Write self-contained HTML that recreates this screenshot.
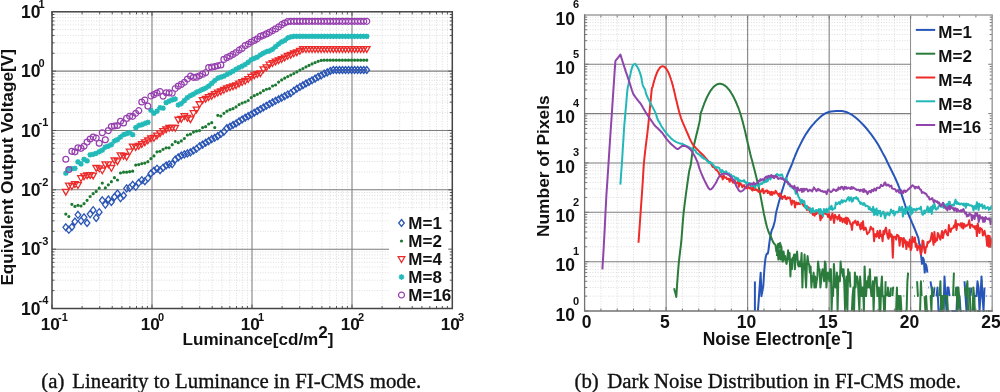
<!DOCTYPE html>
<html><head><meta charset="utf-8"><title>figure</title>
<style>html,body{margin:0;padding:0;background:#fff}body{width:1000px;height:392px;overflow:hidden}svg{display:block}</style>
</head><body>
<svg width="1000" height="392" viewBox="0 0 1000 392">
<path d="M82.10 11.80V308.50M99.71 11.80V308.50M112.21 11.80V308.50M121.90 11.80V308.50M129.82 11.80V308.50M136.51 11.80V308.50M142.31 11.80V308.50M147.42 11.80V308.50M182.10 11.80V308.50M199.71 11.80V308.50M212.21 11.80V308.50M221.90 11.80V308.50M229.82 11.80V308.50M236.51 11.80V308.50M242.31 11.80V308.50M247.42 11.80V308.50M282.10 11.80V308.50M299.71 11.80V308.50M312.21 11.80V308.50M321.90 11.80V308.50M329.82 11.80V308.50M336.51 11.80V308.50M342.31 11.80V308.50M347.42 11.80V308.50M382.10 11.80V308.50M399.71 11.80V308.50M412.21 11.80V308.50M421.90 11.80V308.50M429.82 11.80V308.50M436.51 11.80V308.50M442.31 11.80V308.50M447.42 11.80V308.50M52.00 290.64H452.30M52.00 280.19H452.30M52.00 272.77H452.30M52.00 267.02H452.30M52.00 262.32H452.30M52.00 258.35H452.30M52.00 254.91H452.30M52.00 251.88H452.30M52.00 231.30H452.30M52.00 220.85H452.30M52.00 213.43H452.30M52.00 207.68H452.30M52.00 202.98H452.30M52.00 199.01H452.30M52.00 195.57H452.30M52.00 192.54H452.30M52.00 171.96H452.30M52.00 161.51H452.30M52.00 154.09H452.30M52.00 148.34H452.30M52.00 143.64H452.30M52.00 139.67H452.30M52.00 136.23H452.30M52.00 133.20H452.30M52.00 112.62H452.30M52.00 102.17H452.30M52.00 94.75H452.30M52.00 89.00H452.30M52.00 84.30H452.30M52.00 80.33H452.30M52.00 76.89H452.30M52.00 73.86H452.30M52.00 53.28H452.30M52.00 42.83H452.30M52.00 35.41H452.30M52.00 29.66H452.30M52.00 24.96H452.30M52.00 20.99H452.30M52.00 17.55H452.30M52.00 14.52H452.30" stroke="#dcdcdc" stroke-width="1" stroke-dasharray="1 1.6" fill="none"/>
<path d="M152.00 11.80V308.50M252.00 11.80V308.50M352.00 11.80V308.50M52.00 249.16H452.30M52.00 189.82H452.30M52.00 130.48H452.30M52.00 71.14H452.30" stroke="#7d7d7d" stroke-width="1.05" fill="none"/>
<path d="M65.80 223.80L68.60 227.30L65.80 230.80L63.00 227.30ZM68.84 226.30L71.64 229.80L68.84 233.30L66.04 229.80ZM71.88 223.50L74.68 227.00L71.88 230.50L69.08 227.00ZM74.92 218.10L77.72 221.60L74.92 225.10L72.12 221.60ZM77.96 211.30L80.76 214.80L77.96 218.30L75.16 214.80ZM81.00 217.40L83.80 220.90L81.00 224.40L78.20 220.90ZM84.04 213.80L86.84 217.30L84.04 220.80L81.24 217.30ZM87.08 219.50L89.88 223.00L87.08 226.50L84.28 223.00ZM90.12 210.60L92.92 214.10L90.12 217.60L87.32 214.10ZM93.16 206.70L95.96 210.20L93.16 213.70L90.36 210.20ZM96.20 214.40L99.00 217.90L96.20 221.40L93.40 217.90ZM99.24 208.70L102.04 212.20L99.24 215.70L96.44 212.20ZM102.28 196.80L105.08 200.30L102.28 203.80L99.48 200.30ZM105.32 201.10L108.12 204.60L105.32 208.10L102.52 204.60ZM108.36 196.00L111.16 199.50L108.36 203.00L105.56 199.50ZM111.40 198.50L114.20 202.00L111.40 205.50L108.60 202.00ZM114.44 193.50L117.24 197.00L114.44 200.50L111.64 197.00ZM117.48 190.00L120.28 193.50L117.48 197.00L114.68 193.50ZM120.52 194.60L123.32 198.10L120.52 201.60L117.72 198.10ZM123.56 192.00L126.36 195.50L123.56 199.00L120.76 195.50ZM126.60 184.90L129.40 188.40L126.60 191.90L123.80 188.40ZM129.64 184.40L132.44 187.90L129.64 191.40L126.84 187.90ZM132.68 181.30L135.48 184.80L132.68 188.30L129.88 184.80ZM135.72 183.30L138.52 186.80L135.72 190.30L132.92 186.80ZM138.76 179.30L141.56 182.80L138.76 186.30L135.96 182.80ZM141.80 176.70L144.60 180.20L141.80 183.70L139.00 180.20ZM144.84 177.70L147.64 181.20L144.84 184.70L142.04 181.20ZM147.88 174.70L150.68 178.20L147.88 181.70L145.08 178.20ZM150.92 170.00L153.72 173.50L150.92 177.00L148.12 173.50ZM153.96 167.20L156.76 170.70L153.96 174.20L151.16 170.70ZM157.00 165.20L159.80 168.70L157.00 172.20L154.20 168.70ZM160.04 166.70L162.84 170.20L160.04 173.70L157.24 170.20ZM163.08 164.20L165.88 167.70L163.08 171.20L160.28 167.70ZM166.12 162.01L168.92 165.51L166.12 169.01L163.32 165.51ZM169.16 160.87L171.96 164.37L169.16 167.87L166.36 164.37ZM172.20 160.60L175.00 164.10L172.20 167.60L169.40 164.10ZM175.24 156.00L178.04 159.50L175.24 163.00L172.44 159.50ZM178.28 153.90L181.08 157.40L178.28 160.90L175.48 157.40ZM181.32 152.06L184.12 155.56L181.32 159.06L178.52 155.56ZM184.36 150.90L187.16 154.40L184.36 157.90L181.56 154.40ZM187.40 149.90L190.20 153.40L187.40 156.90L184.60 153.40ZM190.44 148.84L193.24 152.34L190.44 155.84L187.64 152.34ZM193.48 147.07L196.28 150.57L193.48 154.07L190.68 150.57ZM196.52 145.30L199.32 148.80L196.52 152.30L193.72 148.80ZM199.56 142.70L202.36 146.20L199.56 149.70L196.76 146.20ZM202.60 141.11L205.40 144.61L202.60 148.11L199.80 144.61ZM205.64 139.22L208.44 142.72L205.64 146.22L202.84 142.72ZM208.68 137.60L211.48 141.10L208.68 144.60L205.88 141.10ZM211.72 135.60L214.52 139.10L211.72 142.60L208.92 139.10ZM214.76 134.29L217.56 137.79L214.76 141.29L211.96 137.79ZM217.80 132.62L220.60 136.12L217.80 139.62L215.00 136.12ZM220.84 130.50L223.64 134.00L220.84 137.50L218.04 134.00ZM223.88 128.14L226.68 131.64L223.88 135.14L221.08 131.64ZM226.92 124.60L229.72 128.10L226.92 131.60L224.12 128.10ZM229.96 123.26L232.76 126.76L229.96 130.26L227.16 126.76ZM233.00 121.53L235.80 125.03L233.00 128.53L230.20 125.03ZM236.04 120.00L238.84 123.50L236.04 127.00L233.24 123.50ZM239.08 117.90L241.88 121.40L239.08 124.90L236.28 121.40ZM242.12 116.01L244.92 119.51L242.12 123.01L239.32 119.51ZM245.16 114.23L247.96 117.73L245.16 121.23L242.36 117.73ZM248.20 112.63L251.00 116.13L248.20 119.63L245.40 116.13ZM251.24 111.10L254.04 114.60L251.24 118.10L248.44 114.60ZM254.28 109.22L257.08 112.72L254.28 116.22L251.48 112.72ZM257.32 107.50L260.12 111.00L257.32 114.50L254.52 111.00ZM260.36 105.73L263.16 109.23L260.36 112.73L257.56 109.23ZM263.40 104.02L266.20 107.52L263.40 111.02L260.60 107.52ZM266.44 102.32L269.24 105.82L266.44 109.32L263.64 105.82ZM269.48 100.61L272.28 104.11L269.48 107.61L266.68 104.11ZM272.52 98.91L275.32 102.41L272.52 105.91L269.72 102.41ZM275.56 97.33L278.36 100.83L275.56 104.33L272.76 100.83ZM278.60 95.83L281.40 99.33L278.60 102.83L275.80 99.33ZM281.64 94.30L284.44 97.80L281.64 101.30L278.84 97.80ZM284.68 92.63L287.48 96.13L284.68 99.63L281.88 96.13ZM287.72 90.92L290.52 94.42L287.72 97.92L284.92 94.42ZM290.76 89.70L293.56 93.20L290.76 96.70L287.96 93.20ZM293.80 87.20L296.60 90.70L293.80 94.20L291.00 90.70ZM296.84 85.24L299.64 88.74L296.84 92.24L294.04 88.74ZM299.88 83.44L302.68 86.94L299.88 90.44L297.08 86.94ZM302.92 81.73L305.72 85.23L302.92 88.73L300.12 85.23ZM305.96 80.00L308.76 83.50L305.96 87.00L303.16 83.50ZM309.00 78.42L311.80 81.92L309.00 85.42L306.20 81.92ZM312.04 76.82L314.84 80.32L312.04 83.82L309.24 80.32ZM315.08 75.13L317.88 78.63L315.08 82.13L312.28 78.63ZM318.12 73.37L320.92 76.87L318.12 80.37L315.32 76.87ZM321.16 72.00L323.96 75.50L321.16 79.00L318.36 75.50ZM324.20 70.12L327.00 73.62L324.20 77.12L321.40 73.62ZM327.24 68.90L330.04 72.40L327.24 75.90L324.44 72.40ZM330.28 67.48L333.08 70.98L330.28 74.48L327.48 70.98ZM333.32 66.50L336.12 70.00L333.32 73.50L330.52 70.00ZM336.36 66.50L339.16 70.00L336.36 73.50L333.56 70.00ZM339.40 66.50L342.20 70.00L339.40 73.50L336.60 70.00ZM342.44 66.50L345.24 70.00L342.44 73.50L339.64 70.00ZM345.48 66.50L348.28 70.00L345.48 73.50L342.68 70.00ZM348.52 66.50L351.32 70.00L348.52 73.50L345.72 70.00ZM351.56 66.50L354.36 70.00L351.56 73.50L348.76 70.00ZM354.60 66.50L357.40 70.00L354.60 73.50L351.80 70.00ZM357.64 66.50L360.44 70.00L357.64 73.50L354.84 70.00ZM360.68 66.50L363.48 70.00L360.68 73.50L357.88 70.00ZM363.72 66.50L366.52 70.00L363.72 73.50L360.92 70.00ZM366.76 66.50L369.56 70.00L366.76 73.50L363.96 70.00Z" fill="none" stroke="#2b56b5" stroke-width="1.3" stroke-linejoin="miter"/>
<path d="M64.20 214.10a1.6 1.6 0 1 0 3.20 0a1.6 1.6 0 1 0 -3.20 0ZM67.24 216.50a1.6 1.6 0 1 0 3.20 0a1.6 1.6 0 1 0 -3.20 0ZM70.28 204.30a1.6 1.6 0 1 0 3.20 0a1.6 1.6 0 1 0 -3.20 0ZM73.32 206.40a1.6 1.6 0 1 0 3.20 0a1.6 1.6 0 1 0 -3.20 0ZM76.36 205.30a1.6 1.6 0 1 0 3.20 0a1.6 1.6 0 1 0 -3.20 0ZM79.40 206.00a1.6 1.6 0 1 0 3.20 0a1.6 1.6 0 1 0 -3.20 0ZM82.44 203.70a1.6 1.6 0 1 0 3.20 0a1.6 1.6 0 1 0 -3.20 0ZM85.48 200.30a1.6 1.6 0 1 0 3.20 0a1.6 1.6 0 1 0 -3.20 0ZM88.52 196.50a1.6 1.6 0 1 0 3.20 0a1.6 1.6 0 1 0 -3.20 0ZM91.56 193.70a1.6 1.6 0 1 0 3.20 0a1.6 1.6 0 1 0 -3.20 0ZM94.60 191.40a1.6 1.6 0 1 0 3.20 0a1.6 1.6 0 1 0 -3.20 0ZM97.64 188.20a1.6 1.6 0 1 0 3.20 0a1.6 1.6 0 1 0 -3.20 0ZM100.68 183.10a1.6 1.6 0 1 0 3.20 0a1.6 1.6 0 1 0 -3.20 0ZM103.72 187.90a1.6 1.6 0 1 0 3.20 0a1.6 1.6 0 1 0 -3.20 0ZM106.76 184.80a1.6 1.6 0 1 0 3.20 0a1.6 1.6 0 1 0 -3.20 0ZM109.80 181.70a1.6 1.6 0 1 0 3.20 0a1.6 1.6 0 1 0 -3.20 0ZM112.84 177.70a1.6 1.6 0 1 0 3.20 0a1.6 1.6 0 1 0 -3.20 0ZM115.88 180.00a1.6 1.6 0 1 0 3.20 0a1.6 1.6 0 1 0 -3.20 0ZM118.92 173.00a1.6 1.6 0 1 0 3.20 0a1.6 1.6 0 1 0 -3.20 0ZM121.96 172.20a1.6 1.6 0 1 0 3.20 0a1.6 1.6 0 1 0 -3.20 0ZM125.00 172.20a1.6 1.6 0 1 0 3.20 0a1.6 1.6 0 1 0 -3.20 0ZM128.04 171.70a1.6 1.6 0 1 0 3.20 0a1.6 1.6 0 1 0 -3.20 0ZM131.08 171.20a1.6 1.6 0 1 0 3.20 0a1.6 1.6 0 1 0 -3.20 0ZM134.12 165.10a1.6 1.6 0 1 0 3.20 0a1.6 1.6 0 1 0 -3.20 0ZM137.16 164.60a1.6 1.6 0 1 0 3.20 0a1.6 1.6 0 1 0 -3.20 0ZM140.20 163.60a1.6 1.6 0 1 0 3.20 0a1.6 1.6 0 1 0 -3.20 0ZM143.24 163.10a1.6 1.6 0 1 0 3.20 0a1.6 1.6 0 1 0 -3.20 0ZM146.28 161.70a1.6 1.6 0 1 0 3.20 0a1.6 1.6 0 1 0 -3.20 0ZM149.32 158.70a1.6 1.6 0 1 0 3.20 0a1.6 1.6 0 1 0 -3.20 0ZM152.36 155.90a1.6 1.6 0 1 0 3.20 0a1.6 1.6 0 1 0 -3.20 0ZM155.40 151.80a1.6 1.6 0 1 0 3.20 0a1.6 1.6 0 1 0 -3.20 0ZM158.44 151.30a1.6 1.6 0 1 0 3.20 0a1.6 1.6 0 1 0 -3.20 0ZM161.48 149.30a1.6 1.6 0 1 0 3.20 0a1.6 1.6 0 1 0 -3.20 0ZM164.52 147.80a1.6 1.6 0 1 0 3.20 0a1.6 1.6 0 1 0 -3.20 0ZM167.56 147.80a1.6 1.6 0 1 0 3.20 0a1.6 1.6 0 1 0 -3.20 0ZM170.60 144.70a1.6 1.6 0 1 0 3.20 0a1.6 1.6 0 1 0 -3.20 0ZM173.64 141.60a1.6 1.6 0 1 0 3.20 0a1.6 1.6 0 1 0 -3.20 0ZM176.68 142.70a1.6 1.6 0 1 0 3.20 0a1.6 1.6 0 1 0 -3.20 0ZM179.72 140.90a1.6 1.6 0 1 0 3.20 0a1.6 1.6 0 1 0 -3.20 0ZM182.76 138.50a1.6 1.6 0 1 0 3.20 0a1.6 1.6 0 1 0 -3.20 0ZM185.80 135.00a1.6 1.6 0 1 0 3.20 0a1.6 1.6 0 1 0 -3.20 0ZM188.84 134.20a1.6 1.6 0 1 0 3.20 0a1.6 1.6 0 1 0 -3.20 0ZM191.88 132.10a1.6 1.6 0 1 0 3.20 0a1.6 1.6 0 1 0 -3.20 0ZM194.92 131.10a1.6 1.6 0 1 0 3.20 0a1.6 1.6 0 1 0 -3.20 0ZM197.96 130.60a1.6 1.6 0 1 0 3.20 0a1.6 1.6 0 1 0 -3.20 0ZM201.00 127.60a1.6 1.6 0 1 0 3.20 0a1.6 1.6 0 1 0 -3.20 0ZM204.04 126.70a1.6 1.6 0 1 0 3.20 0a1.6 1.6 0 1 0 -3.20 0ZM207.08 124.00a1.6 1.6 0 1 0 3.20 0a1.6 1.6 0 1 0 -3.20 0ZM210.12 122.70a1.6 1.6 0 1 0 3.20 0a1.6 1.6 0 1 0 -3.20 0ZM213.16 127.60a1.6 1.6 0 1 0 3.20 0a1.6 1.6 0 1 0 -3.20 0ZM216.20 115.30a1.6 1.6 0 1 0 3.20 0a1.6 1.6 0 1 0 -3.20 0ZM219.24 116.10a1.6 1.6 0 1 0 3.20 0a1.6 1.6 0 1 0 -3.20 0ZM222.28 113.30a1.6 1.6 0 1 0 3.20 0a1.6 1.6 0 1 0 -3.20 0ZM225.32 111.20a1.6 1.6 0 1 0 3.20 0a1.6 1.6 0 1 0 -3.20 0ZM228.36 109.70a1.6 1.6 0 1 0 3.20 0a1.6 1.6 0 1 0 -3.20 0ZM231.40 108.70a1.6 1.6 0 1 0 3.20 0a1.6 1.6 0 1 0 -3.20 0ZM234.44 106.90a1.6 1.6 0 1 0 3.20 0a1.6 1.6 0 1 0 -3.20 0ZM237.48 104.60a1.6 1.6 0 1 0 3.20 0a1.6 1.6 0 1 0 -3.20 0ZM240.52 103.10a1.6 1.6 0 1 0 3.20 0a1.6 1.6 0 1 0 -3.20 0ZM243.56 102.00a1.6 1.6 0 1 0 3.20 0a1.6 1.6 0 1 0 -3.20 0ZM246.60 100.50a1.6 1.6 0 1 0 3.20 0a1.6 1.6 0 1 0 -3.20 0ZM249.64 97.53a1.6 1.6 0 1 0 3.20 0a1.6 1.6 0 1 0 -3.20 0ZM252.68 95.66a1.6 1.6 0 1 0 3.20 0a1.6 1.6 0 1 0 -3.20 0ZM255.72 94.34a1.6 1.6 0 1 0 3.20 0a1.6 1.6 0 1 0 -3.20 0ZM258.76 92.85a1.6 1.6 0 1 0 3.20 0a1.6 1.6 0 1 0 -3.20 0ZM261.80 90.70a1.6 1.6 0 1 0 3.20 0a1.6 1.6 0 1 0 -3.20 0ZM264.84 89.26a1.6 1.6 0 1 0 3.20 0a1.6 1.6 0 1 0 -3.20 0ZM267.88 88.60a1.6 1.6 0 1 0 3.20 0a1.6 1.6 0 1 0 -3.20 0ZM270.92 86.01a1.6 1.6 0 1 0 3.20 0a1.6 1.6 0 1 0 -3.20 0ZM273.96 85.00a1.6 1.6 0 1 0 3.20 0a1.6 1.6 0 1 0 -3.20 0ZM277.00 82.12a1.6 1.6 0 1 0 3.20 0a1.6 1.6 0 1 0 -3.20 0ZM280.04 79.93a1.6 1.6 0 1 0 3.20 0a1.6 1.6 0 1 0 -3.20 0ZM283.08 78.14a1.6 1.6 0 1 0 3.20 0a1.6 1.6 0 1 0 -3.20 0ZM286.12 76.60a1.6 1.6 0 1 0 3.20 0a1.6 1.6 0 1 0 -3.20 0ZM289.16 75.09a1.6 1.6 0 1 0 3.20 0a1.6 1.6 0 1 0 -3.20 0ZM292.20 73.59a1.6 1.6 0 1 0 3.20 0a1.6 1.6 0 1 0 -3.20 0ZM295.24 71.91a1.6 1.6 0 1 0 3.20 0a1.6 1.6 0 1 0 -3.20 0ZM298.28 70.12a1.6 1.6 0 1 0 3.20 0a1.6 1.6 0 1 0 -3.20 0ZM301.32 68.48a1.6 1.6 0 1 0 3.20 0a1.6 1.6 0 1 0 -3.20 0ZM304.36 66.93a1.6 1.6 0 1 0 3.20 0a1.6 1.6 0 1 0 -3.20 0ZM307.40 65.43a1.6 1.6 0 1 0 3.20 0a1.6 1.6 0 1 0 -3.20 0ZM310.44 63.96a1.6 1.6 0 1 0 3.20 0a1.6 1.6 0 1 0 -3.20 0ZM313.48 62.58a1.6 1.6 0 1 0 3.20 0a1.6 1.6 0 1 0 -3.20 0ZM316.52 61.29a1.6 1.6 0 1 0 3.20 0a1.6 1.6 0 1 0 -3.20 0ZM319.56 60.43a1.6 1.6 0 1 0 3.20 0a1.6 1.6 0 1 0 -3.20 0ZM322.60 60.20a1.6 1.6 0 1 0 3.20 0a1.6 1.6 0 1 0 -3.20 0ZM325.64 60.20a1.6 1.6 0 1 0 3.20 0a1.6 1.6 0 1 0 -3.20 0ZM328.68 60.20a1.6 1.6 0 1 0 3.20 0a1.6 1.6 0 1 0 -3.20 0ZM331.72 60.20a1.6 1.6 0 1 0 3.20 0a1.6 1.6 0 1 0 -3.20 0ZM334.76 60.20a1.6 1.6 0 1 0 3.20 0a1.6 1.6 0 1 0 -3.20 0ZM337.80 60.20a1.6 1.6 0 1 0 3.20 0a1.6 1.6 0 1 0 -3.20 0ZM340.84 60.20a1.6 1.6 0 1 0 3.20 0a1.6 1.6 0 1 0 -3.20 0ZM343.88 60.20a1.6 1.6 0 1 0 3.20 0a1.6 1.6 0 1 0 -3.20 0ZM346.92 60.20a1.6 1.6 0 1 0 3.20 0a1.6 1.6 0 1 0 -3.20 0ZM349.96 60.20a1.6 1.6 0 1 0 3.20 0a1.6 1.6 0 1 0 -3.20 0ZM353.00 60.20a1.6 1.6 0 1 0 3.20 0a1.6 1.6 0 1 0 -3.20 0ZM356.04 60.20a1.6 1.6 0 1 0 3.20 0a1.6 1.6 0 1 0 -3.20 0ZM359.08 60.20a1.6 1.6 0 1 0 3.20 0a1.6 1.6 0 1 0 -3.20 0ZM362.12 60.20a1.6 1.6 0 1 0 3.20 0a1.6 1.6 0 1 0 -3.20 0ZM365.16 60.20a1.6 1.6 0 1 0 3.20 0a1.6 1.6 0 1 0 -3.20 0Z" fill="#1d7a33" stroke="none"/>
<path d="M62.50 189.30H69.10L65.80 195.10ZM65.54 183.20H72.14L68.84 189.00ZM68.58 183.70H75.18L71.88 189.50ZM71.62 181.70H78.22L74.92 187.50ZM74.66 182.70H81.26L77.96 188.50ZM77.70 175.70H84.30L81.00 181.50ZM80.74 173.90H87.34L84.04 179.70ZM83.78 172.80H90.38L87.08 178.60ZM86.82 172.60H93.42L90.12 178.40ZM89.86 173.10H96.46L93.16 178.90ZM92.90 165.50H99.50L96.20 171.30ZM95.94 166.00H102.54L99.24 171.80ZM98.98 168.00H105.58L102.28 173.80ZM102.02 161.90H108.62L105.32 167.70ZM105.06 161.90H111.66L108.36 167.70ZM108.10 165.50H114.70L111.40 171.30ZM111.14 157.80H117.74L114.44 163.60ZM114.18 158.80H120.78L117.48 164.60ZM117.22 152.91H123.82L120.52 158.71ZM120.26 153.30H126.86L123.56 159.10ZM123.30 154.30H129.90L126.60 160.10ZM126.34 149.20H132.94L129.64 155.00ZM129.38 144.10H135.98L132.68 149.90ZM132.42 144.60H139.02L135.72 150.40ZM135.46 143.40H142.06L138.76 149.20ZM138.50 141.71H145.10L141.80 147.51ZM141.54 139.83H148.14L144.84 145.63ZM144.58 138.00H151.18L147.88 143.80ZM147.62 136.00H154.22L150.92 141.80ZM150.66 135.40H157.26L153.96 141.20ZM153.70 133.10H160.30L157.00 138.90ZM156.74 130.78H163.34L160.04 136.58ZM159.78 128.68H166.38L163.08 134.48ZM162.82 127.00H169.42L166.12 132.80ZM165.86 125.49H172.46L169.16 131.29ZM168.90 125.22H175.50L172.20 131.02ZM171.94 125.50H178.54L175.24 131.30ZM174.98 117.27H181.58L178.28 123.07ZM178.02 116.30H184.62L181.32 122.10ZM181.06 113.70H187.66L184.36 119.50ZM184.10 115.34H190.70L187.40 121.14ZM187.14 116.80H193.74L190.44 122.60ZM190.18 110.70H196.78L193.48 116.50ZM193.22 107.10H199.82L196.52 112.90ZM196.26 101.76H202.86L199.56 107.56ZM199.30 97.60H205.90L202.60 103.40ZM202.34 96.28H208.94L205.64 102.08ZM205.38 94.71H211.98L208.68 100.51ZM208.42 93.40H215.02L211.72 99.20ZM211.46 91.66H218.06L214.76 97.46ZM214.50 90.18H221.10L217.80 95.98ZM217.54 88.79H224.14L220.84 94.59ZM220.58 87.49H227.18L223.88 93.29ZM223.62 85.90H230.22L226.92 91.70ZM226.66 85.00H233.26L229.96 90.80ZM229.70 83.83H236.30L233.00 89.63ZM232.74 82.80H239.34L236.04 88.60ZM235.78 81.08H242.38L239.08 86.88ZM238.82 79.70H245.42L242.12 85.50ZM241.86 78.48H248.46L245.16 84.28ZM244.90 76.67H251.50L248.20 82.47ZM247.94 74.40H254.54L251.24 80.20ZM250.98 72.84H257.58L254.28 78.64ZM254.02 71.63H260.62L257.32 77.43ZM257.06 70.90H263.66L260.36 76.70ZM260.10 66.80H266.70L263.40 72.60ZM263.14 64.96H269.74L266.44 70.76ZM266.18 62.20H272.78L269.48 68.00ZM269.22 60.67H275.82L272.52 66.47ZM272.26 59.10H278.86L275.56 64.90ZM275.30 57.87H281.90L278.60 63.67ZM278.34 56.60H284.94L281.64 62.40ZM281.38 55.11H287.98L284.68 60.91ZM284.42 53.50H291.02L287.72 59.30ZM287.46 52.33H294.06L290.76 58.13ZM290.50 51.00H297.10L293.80 56.80ZM293.54 49.79H300.14L296.84 55.59ZM296.58 48.40H303.18L299.88 54.20ZM299.62 46.60H306.22L302.92 52.40ZM302.66 46.60H309.26L305.96 52.40ZM305.70 46.60H312.30L309.00 52.40ZM308.74 46.60H315.34L312.04 52.40ZM311.78 46.60H318.38L315.08 52.40ZM314.82 46.60H321.42L318.12 52.40ZM317.86 46.60H324.46L321.16 52.40ZM320.90 46.60H327.50L324.20 52.40ZM323.94 46.60H330.54L327.24 52.40ZM326.98 46.60H333.58L330.28 52.40ZM330.02 46.60H336.62L333.32 52.40ZM333.06 46.60H339.66L336.36 52.40ZM336.10 46.60H342.70L339.40 52.40ZM339.14 46.60H345.74L342.44 52.40ZM342.18 46.60H348.78L345.48 52.40ZM345.22 46.60H351.82L348.52 52.40ZM348.26 46.60H354.86L351.56 52.40ZM351.30 46.60H357.90L354.60 52.40ZM354.34 46.60H360.94L357.64 52.40ZM357.38 46.60H363.98L360.68 52.40ZM360.42 46.60H367.02L363.72 52.40ZM363.46 46.60H370.06L366.76 52.40Z" fill="none" stroke="#ec2a2a" stroke-width="1.3" stroke-linejoin="miter"/>
<path d="M63.70 173.20L67.90 173.20M64.32 171.72L67.28 174.68M65.80 171.10L65.80 175.30M67.28 171.72L64.32 174.68M66.74 169.10L70.94 169.10M67.36 167.62L70.32 170.58M68.84 167.00L68.84 171.20M70.32 167.62L67.36 170.58M69.78 168.60L73.98 168.60M70.40 167.12L73.36 170.08M71.88 166.50L71.88 170.70M73.36 167.12L70.40 170.08M72.82 168.40L77.02 168.40M73.44 166.92L76.40 169.88M74.92 166.30L74.92 170.50M76.40 166.92L73.44 169.88M75.86 161.90L80.06 161.90M76.48 160.42L79.44 163.38M77.96 159.80L77.96 164.00M79.44 160.42L76.48 163.38M78.90 164.00L83.10 164.00M79.52 162.52L82.48 165.48M81.00 161.90L81.00 166.10M82.48 162.52L79.52 165.48M81.94 159.40L86.14 159.40M82.56 157.92L85.52 160.88M84.04 157.30L84.04 161.50M85.52 157.92L82.56 160.88M84.98 160.90L89.18 160.90M85.60 159.42L88.56 162.38M87.08 158.80L87.08 163.00M88.56 159.42L85.60 162.38M88.02 154.80L92.22 154.80M88.64 153.32L91.60 156.28M90.12 152.70L90.12 156.90M91.60 153.32L88.64 156.28M91.06 154.30L95.26 154.30M91.68 152.82L94.64 155.78M93.16 152.20L93.16 156.40M94.64 152.82L91.68 155.78M94.10 153.30L98.30 153.30M94.72 151.82L97.68 154.78M96.20 151.20L96.20 155.40M97.68 151.82L94.72 154.78M97.14 151.70L101.34 151.70M97.76 150.22L100.72 153.18M99.24 149.60L99.24 153.80M100.72 150.22L97.76 153.18M100.18 150.20L104.38 150.20M100.80 148.72L103.76 151.68M102.28 148.10L102.28 152.30M103.76 148.72L100.80 151.68M103.22 147.10L107.42 147.10M103.84 145.62L106.80 148.58M105.32 145.00L105.32 149.20M106.80 145.62L103.84 148.58M106.26 146.10L110.46 146.10M106.88 144.62L109.84 147.58M108.36 144.00L108.36 148.20M109.84 144.62L106.88 147.58M109.30 144.60L113.50 144.60M109.92 143.12L112.88 146.08M111.40 142.50L111.40 146.70M112.88 143.12L109.92 146.08M112.34 141.00L116.54 141.00M112.96 139.52L115.92 142.48M114.44 138.90L114.44 143.10M115.92 139.52L112.96 142.48M115.38 139.60L119.58 139.60M116.00 138.12L118.96 141.08M117.48 137.50L117.48 141.70M118.96 138.12L116.00 141.08M118.42 137.00L122.62 137.00M119.04 135.52L122.00 138.48M120.52 134.90L120.52 139.10M122.00 135.52L119.04 138.48M121.46 134.70L125.66 134.70M122.08 133.22L125.04 136.18M123.56 132.60L123.56 136.80M125.04 133.22L122.08 136.18M124.50 133.70L128.70 133.70M125.12 132.22L128.08 135.18M126.60 131.60L126.60 135.80M128.08 132.22L125.12 135.18M127.54 132.70L131.74 132.70M128.16 131.22L131.12 134.18M129.64 130.60L129.64 134.80M131.12 131.22L128.16 134.18M130.58 134.70L134.78 134.70M131.20 133.22L134.16 136.18M132.68 132.60L132.68 136.80M134.16 133.22L131.20 136.18M133.62 127.60L137.82 127.60M134.24 126.12L137.20 129.08M135.72 125.50L135.72 129.70M137.20 126.12L134.24 129.08M136.66 125.50L140.86 125.50M137.28 124.02L140.24 126.98M138.76 123.40L138.76 127.60M140.24 124.02L137.28 126.98M139.70 124.73L143.90 124.73M140.32 123.25L143.28 126.22M141.80 122.63L141.80 126.83M143.28 123.25L140.32 126.22M142.74 123.52L146.94 123.52M143.36 122.04L146.32 125.01M144.84 121.42L144.84 125.62M146.32 122.04L143.36 125.01M145.78 122.40L149.98 122.40M146.40 120.92L149.36 123.88M147.88 120.30L147.88 124.50M149.36 120.92L146.40 123.88M148.82 110.20L153.02 110.20M149.44 108.72L152.40 111.68M150.92 108.10L150.92 112.30M152.40 108.72L149.44 111.68M151.86 113.30L156.06 113.30M152.48 111.82L155.44 114.78M153.96 111.20L153.96 115.40M155.44 111.82L152.48 114.78M154.90 111.20L159.10 111.20M155.52 109.72L158.48 112.68M157.00 109.10L157.00 113.30M158.48 109.72L155.52 112.68M157.94 107.70L162.14 107.70M158.56 106.22L161.52 109.18M160.04 105.60L160.04 109.80M161.52 106.22L158.56 109.18M160.98 108.20L165.18 108.20M161.60 106.72L164.56 109.68M163.08 106.10L163.08 110.30M164.56 106.72L161.60 109.68M164.02 102.60L168.22 102.60M164.64 101.12L167.60 104.08M166.12 100.50L166.12 104.70M167.60 101.12L164.64 104.08M167.06 101.20L171.26 101.20M167.68 99.72L170.64 102.69M169.16 99.10L169.16 103.30M170.64 99.72L167.68 102.69M170.10 99.90L174.30 99.90M170.72 98.41L173.68 101.38M172.20 97.80L172.20 102.00M173.68 98.41L170.72 101.38M173.14 99.00L177.34 99.00M173.76 97.52L176.72 100.48M175.24 96.90L175.24 101.10M176.72 97.52L173.76 100.48M176.18 105.00L180.38 105.00M176.80 103.52L179.76 106.48M178.28 102.90L178.28 107.10M179.76 103.52L176.80 106.48M179.22 103.54L183.42 103.54M179.84 102.06L182.80 105.03M181.32 101.44L181.32 105.64M182.80 102.06L179.84 105.03M182.26 100.62L186.46 100.62M182.88 99.14L185.84 102.11M184.36 98.52L184.36 102.72M185.84 99.14L182.88 102.11M185.30 97.61L189.50 97.61M185.92 96.13L188.88 99.10M187.40 95.51L187.40 99.71M188.88 96.13L185.92 99.10M188.34 95.67L192.54 95.67M188.96 94.19L191.92 97.16M190.44 93.57L190.44 97.77M191.92 94.19L188.96 97.16M191.38 94.10L195.58 94.10M192.00 92.62L194.96 95.58M193.48 92.00L193.48 96.20M194.96 92.62L192.00 95.58M194.42 92.26L198.62 92.26M195.04 90.78L198.00 93.75M196.52 90.16L196.52 94.36M198.00 90.78L195.04 93.75M197.46 91.00L201.66 91.00M198.08 89.52L201.04 92.48M199.56 88.90L199.56 93.10M201.04 89.52L198.08 92.48M200.50 89.40L204.70 89.40M201.12 87.92L204.08 90.88M202.60 87.30L202.60 91.50M204.08 87.92L201.12 90.88M203.54 88.05L207.74 88.05M204.16 86.56L207.12 89.53M205.64 85.95L205.64 90.15M207.12 86.56L204.16 89.53M206.58 86.16L210.78 86.16M207.20 84.68L210.16 87.65M208.68 84.06L208.68 88.26M210.16 84.68L207.20 87.65M209.62 83.40L213.82 83.40M210.24 81.92L213.20 84.88M211.72 81.30L211.72 85.50M213.20 81.92L210.24 84.88M212.66 80.53L216.86 80.53M213.28 79.04L216.24 82.01M214.76 78.43L214.76 82.63M216.24 79.04L213.28 82.01M215.70 78.26L219.90 78.26M216.32 76.77L219.28 79.74M217.80 76.16L217.80 80.36M219.28 76.77L216.32 79.74M218.74 77.16L222.94 77.16M219.36 75.68L222.32 78.65M220.84 75.06L220.84 79.26M222.32 75.68L219.36 78.65M221.78 76.20L225.98 76.20M222.40 74.72L225.36 77.68M223.88 74.10L223.88 78.30M225.36 74.72L222.40 77.68M224.82 74.47L229.02 74.47M225.44 72.98L228.40 75.95M226.92 72.37L226.92 76.57M228.40 72.98L225.44 75.95M227.86 72.93L232.06 72.93M228.48 71.45L231.44 74.42M229.96 70.83L229.96 75.03M231.44 71.45L228.48 74.42M230.90 71.20L235.10 71.20M231.52 69.71L234.48 72.68M233.00 69.10L233.00 73.30M234.48 69.71L231.52 72.68M233.94 69.24L238.14 69.24M234.56 67.75L237.52 70.72M236.04 67.14L236.04 71.34M237.52 67.75L234.56 70.72M236.98 67.53L241.18 67.53M237.60 66.05L240.56 69.02M239.08 65.43L239.08 69.63M240.56 66.05L237.60 69.02M240.02 66.18L244.22 66.18M240.64 64.70L243.60 67.66M242.12 64.08L242.12 68.28M243.60 64.70L240.64 67.66M243.06 64.50L247.26 64.50M243.68 63.02L246.64 65.98M245.16 62.40L245.16 66.60M246.64 63.02L243.68 65.98M246.10 62.38L250.30 62.38M246.72 60.89L249.68 63.86M248.20 60.28L248.20 64.48M249.68 60.89L246.72 63.86M249.14 59.70L253.34 59.70M249.76 58.22L252.72 61.18M251.24 57.60L251.24 61.80M252.72 58.22L249.76 61.18M252.18 58.34L256.38 58.34M252.80 56.86L255.76 59.83M254.28 56.24L254.28 60.44M255.76 56.86L252.80 59.83M255.22 57.10L259.42 57.10M255.84 55.62L258.80 58.58M257.32 55.00L257.32 59.20M258.80 55.62L255.84 58.58M258.26 54.93L262.46 54.93M258.88 53.45L261.84 56.42M260.36 52.83L260.36 57.03M261.84 53.45L258.88 56.42M261.30 53.09L265.50 53.09M261.92 51.61L264.88 54.58M263.40 50.99L263.40 55.19M264.88 51.61L261.92 54.58M264.34 51.70L268.54 51.70M264.96 50.22L267.92 53.18M266.44 49.60L266.44 53.80M267.92 50.22L264.96 53.18M267.38 50.79L271.58 50.79M268.00 49.31L270.96 52.28M269.48 48.69L269.48 52.89M270.96 49.31L268.00 52.28M270.42 49.30L274.62 49.30M271.04 47.82L274.00 50.79M272.52 47.20L272.52 51.40M274.00 47.82L271.04 50.79M273.46 46.60L277.66 46.60M274.08 45.12L277.04 48.08M275.56 44.50L275.56 48.70M277.04 45.12L274.08 48.08M276.50 44.04L280.70 44.04M277.12 42.55L280.08 45.52M278.60 41.94L278.60 46.14M280.08 42.55L277.12 45.52M279.54 41.87L283.74 41.87M280.16 40.38L283.12 43.35M281.64 39.77L281.64 43.97M283.12 40.38L280.16 43.35M282.58 40.50L286.78 40.50M283.20 39.02L286.16 41.98M284.68 38.40L284.68 42.60M286.16 39.02L283.20 41.98M285.62 38.00L289.82 38.00M286.24 36.52L289.20 39.48M287.72 35.90L287.72 40.10M289.20 36.52L286.24 39.48M288.66 36.88L292.86 36.88M289.28 35.40L292.24 38.37M290.76 34.78L290.76 38.98M292.24 35.40L289.28 38.37M291.70 36.40L295.90 36.40M292.32 34.92L295.28 37.88M293.80 34.30L293.80 38.50M295.28 34.92L292.32 37.88M294.74 36.40L298.94 36.40M295.36 34.92L298.32 37.88M296.84 34.30L296.84 38.50M298.32 34.92L295.36 37.88M297.78 36.40L301.98 36.40M298.40 34.92L301.36 37.88M299.88 34.30L299.88 38.50M301.36 34.92L298.40 37.88M300.82 36.40L305.02 36.40M301.44 34.92L304.40 37.88M302.92 34.30L302.92 38.50M304.40 34.92L301.44 37.88M303.86 36.40L308.06 36.40M304.48 34.92L307.44 37.88M305.96 34.30L305.96 38.50M307.44 34.92L304.48 37.88M306.90 36.40L311.10 36.40M307.52 34.92L310.48 37.88M309.00 34.30L309.00 38.50M310.48 34.92L307.52 37.88M309.94 36.40L314.14 36.40M310.56 34.92L313.52 37.88M312.04 34.30L312.04 38.50M313.52 34.92L310.56 37.88M312.98 36.40L317.18 36.40M313.60 34.92L316.56 37.88M315.08 34.30L315.08 38.50M316.56 34.92L313.60 37.88M316.02 36.40L320.22 36.40M316.64 34.92L319.60 37.88M318.12 34.30L318.12 38.50M319.60 34.92L316.64 37.88M319.06 36.40L323.26 36.40M319.68 34.92L322.64 37.88M321.16 34.30L321.16 38.50M322.64 34.92L319.68 37.88M322.10 36.40L326.30 36.40M322.72 34.92L325.68 37.88M324.20 34.30L324.20 38.50M325.68 34.92L322.72 37.88M325.14 36.40L329.34 36.40M325.76 34.92L328.72 37.88M327.24 34.30L327.24 38.50M328.72 34.92L325.76 37.88M328.18 36.40L332.38 36.40M328.80 34.92L331.76 37.88M330.28 34.30L330.28 38.50M331.76 34.92L328.80 37.88M331.22 36.40L335.42 36.40M331.84 34.92L334.80 37.88M333.32 34.30L333.32 38.50M334.80 34.92L331.84 37.88M334.26 36.40L338.46 36.40M334.88 34.92L337.84 37.88M336.36 34.30L336.36 38.50M337.84 34.92L334.88 37.88M337.30 36.40L341.50 36.40M337.92 34.92L340.88 37.88M339.40 34.30L339.40 38.50M340.88 34.92L337.92 37.88M340.34 36.40L344.54 36.40M340.96 34.92L343.92 37.88M342.44 34.30L342.44 38.50M343.92 34.92L340.96 37.88M343.38 36.40L347.58 36.40M344.00 34.92L346.96 37.88M345.48 34.30L345.48 38.50M346.96 34.92L344.00 37.88M346.42 36.40L350.62 36.40M347.04 34.92L350.00 37.88M348.52 34.30L348.52 38.50M350.00 34.92L347.04 37.88M349.46 36.40L353.66 36.40M350.08 34.92L353.04 37.88M351.56 34.30L351.56 38.50M353.04 34.92L350.08 37.88M352.50 36.40L356.70 36.40M353.12 34.92L356.08 37.88M354.60 34.30L354.60 38.50M356.08 34.92L353.12 37.88M355.54 36.40L359.74 36.40M356.16 34.92L359.12 37.88M357.64 34.30L357.64 38.50M359.12 34.92L356.16 37.88M358.58 36.40L362.78 36.40M359.20 34.92L362.16 37.88M360.68 34.30L360.68 38.50M362.16 34.92L359.20 37.88M361.62 36.40L365.82 36.40M362.24 34.92L365.20 37.88M363.72 34.30L363.72 38.50M365.20 34.92L362.24 37.88M364.66 36.40L368.86 36.40M365.28 34.92L368.24 37.88M366.76 34.30L366.76 38.50M368.24 34.92L365.28 37.88" fill="none" stroke="#22b9b9" stroke-width="1.6" stroke-linecap="round"/>
<path d="M62.85 159.20a2.95 2.95 0 1 0 5.90 0a2.95 2.95 0 1 0 -5.90 0ZM65.89 169.50a2.95 2.95 0 1 0 5.90 0a2.95 2.95 0 1 0 -5.90 0ZM68.93 151.30a2.95 2.95 0 1 0 5.90 0a2.95 2.95 0 1 0 -5.90 0ZM71.97 151.80a2.95 2.95 0 1 0 5.90 0a2.95 2.95 0 1 0 -5.90 0ZM75.01 147.80a2.95 2.95 0 1 0 5.90 0a2.95 2.95 0 1 0 -5.90 0ZM78.05 148.30a2.95 2.95 0 1 0 5.90 0a2.95 2.95 0 1 0 -5.90 0ZM81.09 146.20a2.95 2.95 0 1 0 5.90 0a2.95 2.95 0 1 0 -5.90 0ZM84.13 142.10a2.95 2.95 0 1 0 5.90 0a2.95 2.95 0 1 0 -5.90 0ZM87.17 139.00a2.95 2.95 0 1 0 5.90 0a2.95 2.95 0 1 0 -5.90 0ZM90.21 137.00a2.95 2.95 0 1 0 5.90 0a2.95 2.95 0 1 0 -5.90 0ZM93.25 138.00a2.95 2.95 0 1 0 5.90 0a2.95 2.95 0 1 0 -5.90 0ZM96.29 143.20a2.95 2.95 0 1 0 5.90 0a2.95 2.95 0 1 0 -5.90 0ZM99.33 132.70a2.95 2.95 0 1 0 5.90 0a2.95 2.95 0 1 0 -5.90 0ZM102.37 139.70a2.95 2.95 0 1 0 5.90 0a2.95 2.95 0 1 0 -5.90 0ZM105.41 130.60a2.95 2.95 0 1 0 5.90 0a2.95 2.95 0 1 0 -5.90 0ZM108.45 126.50a2.95 2.95 0 1 0 5.90 0a2.95 2.95 0 1 0 -5.90 0ZM111.49 126.00a2.95 2.95 0 1 0 5.90 0a2.95 2.95 0 1 0 -5.90 0ZM114.53 125.50a2.95 2.95 0 1 0 5.90 0a2.95 2.95 0 1 0 -5.90 0ZM117.57 121.40a2.95 2.95 0 1 0 5.90 0a2.95 2.95 0 1 0 -5.90 0ZM120.61 123.00a2.95 2.95 0 1 0 5.90 0a2.95 2.95 0 1 0 -5.90 0ZM123.65 118.40a2.95 2.95 0 1 0 5.90 0a2.95 2.95 0 1 0 -5.90 0ZM126.69 116.30a2.95 2.95 0 1 0 5.90 0a2.95 2.95 0 1 0 -5.90 0ZM129.73 116.30a2.95 2.95 0 1 0 5.90 0a2.95 2.95 0 1 0 -5.90 0ZM132.77 113.30a2.95 2.95 0 1 0 5.90 0a2.95 2.95 0 1 0 -5.90 0ZM135.81 110.70a2.95 2.95 0 1 0 5.90 0a2.95 2.95 0 1 0 -5.90 0ZM138.85 102.00a2.95 2.95 0 1 0 5.90 0a2.95 2.95 0 1 0 -5.90 0ZM141.89 100.00a2.95 2.95 0 1 0 5.90 0a2.95 2.95 0 1 0 -5.90 0ZM144.93 106.10a2.95 2.95 0 1 0 5.90 0a2.95 2.95 0 1 0 -5.90 0ZM147.97 96.00a2.95 2.95 0 1 0 5.90 0a2.95 2.95 0 1 0 -5.90 0ZM151.01 94.60a2.95 2.95 0 1 0 5.90 0a2.95 2.95 0 1 0 -5.90 0ZM154.05 93.00a2.95 2.95 0 1 0 5.90 0a2.95 2.95 0 1 0 -5.90 0ZM157.09 91.50a2.95 2.95 0 1 0 5.90 0a2.95 2.95 0 1 0 -5.90 0ZM160.13 96.10a2.95 2.95 0 1 0 5.90 0a2.95 2.95 0 1 0 -5.90 0ZM163.17 92.81a2.95 2.95 0 1 0 5.90 0a2.95 2.95 0 1 0 -5.90 0ZM166.21 92.80a2.95 2.95 0 1 0 5.90 0a2.95 2.95 0 1 0 -5.90 0ZM169.25 93.10a2.95 2.95 0 1 0 5.90 0a2.95 2.95 0 1 0 -5.90 0ZM172.29 88.50a2.95 2.95 0 1 0 5.90 0a2.95 2.95 0 1 0 -5.90 0ZM175.33 86.10a2.95 2.95 0 1 0 5.90 0a2.95 2.95 0 1 0 -5.90 0ZM178.37 84.40a2.95 2.95 0 1 0 5.90 0a2.95 2.95 0 1 0 -5.90 0ZM181.41 82.30a2.95 2.95 0 1 0 5.90 0a2.95 2.95 0 1 0 -5.90 0ZM184.45 79.07a2.95 2.95 0 1 0 5.90 0a2.95 2.95 0 1 0 -5.90 0ZM187.49 76.20a2.95 2.95 0 1 0 5.90 0a2.95 2.95 0 1 0 -5.90 0ZM190.53 77.35a2.95 2.95 0 1 0 5.90 0a2.95 2.95 0 1 0 -5.90 0ZM193.57 77.13a2.95 2.95 0 1 0 5.90 0a2.95 2.95 0 1 0 -5.90 0ZM196.61 75.70a2.95 2.95 0 1 0 5.90 0a2.95 2.95 0 1 0 -5.90 0ZM199.65 74.17a2.95 2.95 0 1 0 5.90 0a2.95 2.95 0 1 0 -5.90 0ZM202.69 72.70a2.95 2.95 0 1 0 5.90 0a2.95 2.95 0 1 0 -5.90 0ZM205.73 67.60a2.95 2.95 0 1 0 5.90 0a2.95 2.95 0 1 0 -5.90 0ZM208.77 67.19a2.95 2.95 0 1 0 5.90 0a2.95 2.95 0 1 0 -5.90 0ZM211.81 66.59a2.95 2.95 0 1 0 5.90 0a2.95 2.95 0 1 0 -5.90 0ZM214.85 65.73a2.95 2.95 0 1 0 5.90 0a2.95 2.95 0 1 0 -5.90 0ZM217.89 65.00a2.95 2.95 0 1 0 5.90 0a2.95 2.95 0 1 0 -5.90 0ZM220.93 59.40a2.95 2.95 0 1 0 5.90 0a2.95 2.95 0 1 0 -5.90 0ZM223.97 57.64a2.95 2.95 0 1 0 5.90 0a2.95 2.95 0 1 0 -5.90 0ZM227.01 56.12a2.95 2.95 0 1 0 5.90 0a2.95 2.95 0 1 0 -5.90 0ZM230.05 54.43a2.95 2.95 0 1 0 5.90 0a2.95 2.95 0 1 0 -5.90 0ZM233.09 52.54a2.95 2.95 0 1 0 5.90 0a2.95 2.95 0 1 0 -5.90 0ZM236.13 50.20a2.95 2.95 0 1 0 5.90 0a2.95 2.95 0 1 0 -5.90 0ZM239.17 48.48a2.95 2.95 0 1 0 5.90 0a2.95 2.95 0 1 0 -5.90 0ZM242.21 45.60a2.95 2.95 0 1 0 5.90 0a2.95 2.95 0 1 0 -5.90 0ZM245.25 44.05a2.95 2.95 0 1 0 5.90 0a2.95 2.95 0 1 0 -5.90 0ZM248.29 42.00a2.95 2.95 0 1 0 5.90 0a2.95 2.95 0 1 0 -5.90 0ZM251.33 40.44a2.95 2.95 0 1 0 5.90 0a2.95 2.95 0 1 0 -5.90 0ZM254.37 38.82a2.95 2.95 0 1 0 5.90 0a2.95 2.95 0 1 0 -5.90 0ZM257.41 36.40a2.95 2.95 0 1 0 5.90 0a2.95 2.95 0 1 0 -5.90 0ZM260.45 35.37a2.95 2.95 0 1 0 5.90 0a2.95 2.95 0 1 0 -5.90 0ZM263.49 33.90a2.95 2.95 0 1 0 5.90 0a2.95 2.95 0 1 0 -5.90 0ZM266.53 32.33a2.95 2.95 0 1 0 5.90 0a2.95 2.95 0 1 0 -5.90 0ZM269.57 30.70a2.95 2.95 0 1 0 5.90 0a2.95 2.95 0 1 0 -5.90 0ZM272.61 28.91a2.95 2.95 0 1 0 5.90 0a2.95 2.95 0 1 0 -5.90 0ZM275.65 26.89a2.95 2.95 0 1 0 5.90 0a2.95 2.95 0 1 0 -5.90 0ZM278.69 24.70a2.95 2.95 0 1 0 5.90 0a2.95 2.95 0 1 0 -5.90 0ZM281.73 22.96a2.95 2.95 0 1 0 5.90 0a2.95 2.95 0 1 0 -5.90 0ZM284.77 21.68a2.95 2.95 0 1 0 5.90 0a2.95 2.95 0 1 0 -5.90 0ZM287.81 21.30a2.95 2.95 0 1 0 5.90 0a2.95 2.95 0 1 0 -5.90 0ZM290.85 21.30a2.95 2.95 0 1 0 5.90 0a2.95 2.95 0 1 0 -5.90 0ZM293.89 21.30a2.95 2.95 0 1 0 5.90 0a2.95 2.95 0 1 0 -5.90 0ZM296.93 21.30a2.95 2.95 0 1 0 5.90 0a2.95 2.95 0 1 0 -5.90 0ZM299.97 21.30a2.95 2.95 0 1 0 5.90 0a2.95 2.95 0 1 0 -5.90 0ZM303.01 21.30a2.95 2.95 0 1 0 5.90 0a2.95 2.95 0 1 0 -5.90 0ZM306.05 21.30a2.95 2.95 0 1 0 5.90 0a2.95 2.95 0 1 0 -5.90 0ZM309.09 21.30a2.95 2.95 0 1 0 5.90 0a2.95 2.95 0 1 0 -5.90 0ZM312.13 21.30a2.95 2.95 0 1 0 5.90 0a2.95 2.95 0 1 0 -5.90 0ZM315.17 21.30a2.95 2.95 0 1 0 5.90 0a2.95 2.95 0 1 0 -5.90 0ZM318.21 21.30a2.95 2.95 0 1 0 5.90 0a2.95 2.95 0 1 0 -5.90 0ZM321.25 21.30a2.95 2.95 0 1 0 5.90 0a2.95 2.95 0 1 0 -5.90 0ZM324.29 21.30a2.95 2.95 0 1 0 5.90 0a2.95 2.95 0 1 0 -5.90 0ZM327.33 21.30a2.95 2.95 0 1 0 5.90 0a2.95 2.95 0 1 0 -5.90 0ZM330.37 21.30a2.95 2.95 0 1 0 5.90 0a2.95 2.95 0 1 0 -5.90 0ZM333.41 21.30a2.95 2.95 0 1 0 5.90 0a2.95 2.95 0 1 0 -5.90 0ZM336.45 21.30a2.95 2.95 0 1 0 5.90 0a2.95 2.95 0 1 0 -5.90 0ZM339.49 21.30a2.95 2.95 0 1 0 5.90 0a2.95 2.95 0 1 0 -5.90 0ZM342.53 21.30a2.95 2.95 0 1 0 5.90 0a2.95 2.95 0 1 0 -5.90 0ZM345.57 21.30a2.95 2.95 0 1 0 5.90 0a2.95 2.95 0 1 0 -5.90 0ZM348.61 21.30a2.95 2.95 0 1 0 5.90 0a2.95 2.95 0 1 0 -5.90 0ZM351.65 21.30a2.95 2.95 0 1 0 5.90 0a2.95 2.95 0 1 0 -5.90 0ZM354.69 21.30a2.95 2.95 0 1 0 5.90 0a2.95 2.95 0 1 0 -5.90 0ZM357.73 21.30a2.95 2.95 0 1 0 5.90 0a2.95 2.95 0 1 0 -5.90 0ZM360.77 21.30a2.95 2.95 0 1 0 5.90 0a2.95 2.95 0 1 0 -5.90 0ZM363.81 21.30a2.95 2.95 0 1 0 5.90 0a2.95 2.95 0 1 0 -5.90 0Z" fill="none" stroke="#963fae" stroke-width="1.25"/>
<rect x="389" y="210" width="63.3" height="98.5" fill="#fff"/>
<path d="M52.00 308.50v-4M52.00 11.80v4M82.10 308.50v-2.5M82.10 11.80v2.5M99.71 308.50v-2.5M99.71 11.80v2.5M112.21 308.50v-2.5M112.21 11.80v2.5M121.90 308.50v-2.5M121.90 11.80v2.5M129.82 308.50v-2.5M129.82 11.80v2.5M136.51 308.50v-2.5M136.51 11.80v2.5M142.31 308.50v-2.5M142.31 11.80v2.5M147.42 308.50v-2.5M147.42 11.80v2.5M152.00 308.50v-4M152.00 11.80v4M182.10 308.50v-2.5M182.10 11.80v2.5M199.71 308.50v-2.5M199.71 11.80v2.5M212.21 308.50v-2.5M212.21 11.80v2.5M221.90 308.50v-2.5M221.90 11.80v2.5M229.82 308.50v-2.5M229.82 11.80v2.5M236.51 308.50v-2.5M236.51 11.80v2.5M242.31 308.50v-2.5M242.31 11.80v2.5M247.42 308.50v-2.5M247.42 11.80v2.5M252.00 308.50v-4M252.00 11.80v4M282.10 308.50v-2.5M282.10 11.80v2.5M299.71 308.50v-2.5M299.71 11.80v2.5M312.21 308.50v-2.5M312.21 11.80v2.5M321.90 308.50v-2.5M321.90 11.80v2.5M329.82 308.50v-2.5M329.82 11.80v2.5M336.51 308.50v-2.5M336.51 11.80v2.5M342.31 308.50v-2.5M342.31 11.80v2.5M347.42 308.50v-2.5M347.42 11.80v2.5M352.00 308.50v-4M352.00 11.80v4M382.10 308.50v-2.5M382.10 11.80v2.5M399.71 308.50v-2.5M399.71 11.80v2.5M412.21 308.50v-2.5M412.21 11.80v2.5M421.90 308.50v-2.5M421.90 11.80v2.5M429.82 308.50v-2.5M429.82 11.80v2.5M436.51 308.50v-2.5M436.51 11.80v2.5M442.31 308.50v-2.5M442.31 11.80v2.5M447.42 308.50v-2.5M447.42 11.80v2.5M52.00 308.50h4M452.30 308.50h-4M52.00 290.64h2.5M452.30 290.64h-2.5M52.00 280.19h2.5M452.30 280.19h-2.5M52.00 272.77h2.5M452.30 272.77h-2.5M52.00 267.02h2.5M452.30 267.02h-2.5M52.00 262.32h2.5M452.30 262.32h-2.5M52.00 258.35h2.5M452.30 258.35h-2.5M52.00 254.91h2.5M452.30 254.91h-2.5M52.00 251.88h2.5M452.30 251.88h-2.5M52.00 249.16h4M452.30 249.16h-4M52.00 231.30h2.5M452.30 231.30h-2.5M52.00 220.85h2.5M452.30 220.85h-2.5M52.00 213.43h2.5M452.30 213.43h-2.5M52.00 207.68h2.5M452.30 207.68h-2.5M52.00 202.98h2.5M452.30 202.98h-2.5M52.00 199.01h2.5M452.30 199.01h-2.5M52.00 195.57h2.5M452.30 195.57h-2.5M52.00 192.54h2.5M452.30 192.54h-2.5M52.00 189.82h4M452.30 189.82h-4M52.00 171.96h2.5M452.30 171.96h-2.5M52.00 161.51h2.5M452.30 161.51h-2.5M52.00 154.09h2.5M452.30 154.09h-2.5M52.00 148.34h2.5M452.30 148.34h-2.5M52.00 143.64h2.5M452.30 143.64h-2.5M52.00 139.67h2.5M452.30 139.67h-2.5M52.00 136.23h2.5M452.30 136.23h-2.5M52.00 133.20h2.5M452.30 133.20h-2.5M52.00 130.48h4M452.30 130.48h-4M52.00 112.62h2.5M452.30 112.62h-2.5M52.00 102.17h2.5M452.30 102.17h-2.5M52.00 94.75h2.5M452.30 94.75h-2.5M52.00 89.00h2.5M452.30 89.00h-2.5M52.00 84.30h2.5M452.30 84.30h-2.5M52.00 80.33h2.5M452.30 80.33h-2.5M52.00 76.89h2.5M452.30 76.89h-2.5M52.00 73.86h2.5M452.30 73.86h-2.5M52.00 71.14h4M452.30 71.14h-4M52.00 53.28h2.5M452.30 53.28h-2.5M52.00 42.83h2.5M452.30 42.83h-2.5M52.00 35.41h2.5M452.30 35.41h-2.5M52.00 29.66h2.5M452.30 29.66h-2.5M52.00 24.96h2.5M452.30 24.96h-2.5M52.00 20.99h2.5M452.30 20.99h-2.5M52.00 17.55h2.5M452.30 17.55h-2.5M52.00 14.52h2.5M452.30 14.52h-2.5" stroke="#555" stroke-width="1" fill="none"/>
<rect x="52.0" y="11.8" width="400.30" height="296.70" fill="none" stroke="#444" stroke-width="1.5"/>
<text x="21.0" y="314.80" font-size="17.5" font-family="'Liberation Sans', Arial, sans-serif" font-weight="bold" fill="#111">10</text>
<text x="38.6" y="304.30" font-size="11" font-family="'Liberation Sans', Arial, sans-serif" font-weight="bold" fill="#111">-4</text>
<text x="21.0" y="255.46" font-size="17.5" font-family="'Liberation Sans', Arial, sans-serif" font-weight="bold" fill="#111">10</text>
<text x="38.6" y="244.96" font-size="11" font-family="'Liberation Sans', Arial, sans-serif" font-weight="bold" fill="#111">-3</text>
<text x="21.0" y="196.12" font-size="17.5" font-family="'Liberation Sans', Arial, sans-serif" font-weight="bold" fill="#111">10</text>
<text x="38.6" y="185.62" font-size="11" font-family="'Liberation Sans', Arial, sans-serif" font-weight="bold" fill="#111">-2</text>
<text x="21.0" y="136.78" font-size="17.5" font-family="'Liberation Sans', Arial, sans-serif" font-weight="bold" fill="#111">10</text>
<text x="38.6" y="126.28" font-size="11" font-family="'Liberation Sans', Arial, sans-serif" font-weight="bold" fill="#111">-1</text>
<text x="21.0" y="77.44" font-size="17.5" font-family="'Liberation Sans', Arial, sans-serif" font-weight="bold" fill="#111">10</text>
<text x="38.6" y="66.94" font-size="11" font-family="'Liberation Sans', Arial, sans-serif" font-weight="bold" fill="#111">0</text>
<text x="21.0" y="18.10" font-size="17.5" font-family="'Liberation Sans', Arial, sans-serif" font-weight="bold" fill="#111">10</text>
<text x="38.6" y="7.60" font-size="11" font-family="'Liberation Sans', Arial, sans-serif" font-weight="bold" fill="#111">1</text>
<text x="40.70" y="329.5" font-size="17.2" font-family="'Liberation Sans', Arial, sans-serif" font-weight="bold" fill="#111">10</text>
<text x="58.10" y="320.6" font-size="11" font-family="'Liberation Sans', Arial, sans-serif" font-weight="bold" fill="#111">-1</text>
<text x="140.70" y="329.5" font-size="17.2" font-family="'Liberation Sans', Arial, sans-serif" font-weight="bold" fill="#111">10</text>
<text x="158.10" y="320.6" font-size="11" font-family="'Liberation Sans', Arial, sans-serif" font-weight="bold" fill="#111">0</text>
<text x="240.70" y="329.5" font-size="17.2" font-family="'Liberation Sans', Arial, sans-serif" font-weight="bold" fill="#111">10</text>
<text x="258.10" y="320.6" font-size="11" font-family="'Liberation Sans', Arial, sans-serif" font-weight="bold" fill="#111">1</text>
<text x="340.70" y="329.5" font-size="17.2" font-family="'Liberation Sans', Arial, sans-serif" font-weight="bold" fill="#111">10</text>
<text x="358.10" y="320.6" font-size="11" font-family="'Liberation Sans', Arial, sans-serif" font-weight="bold" fill="#111">2</text>
<text x="440.70" y="329.5" font-size="17.2" font-family="'Liberation Sans', Arial, sans-serif" font-weight="bold" fill="#111">10</text>
<text x="458.10" y="320.6" font-size="11" font-family="'Liberation Sans', Arial, sans-serif" font-weight="bold" fill="#111">3</text>
<text x="182.5" y="344.8" font-size="17.1" font-family="'Liberation Sans', Arial, sans-serif" font-weight="bold" fill="#111">Luminance[cd/m<tspan dy="-7.3">2</tspan><tspan dy="7.3">]</tspan></text>
<text transform="translate(13.3,285.6) rotate(-90)" font-size="17.2" font-family="'Liberation Sans', Arial, sans-serif" font-weight="bold" fill="#111">Equivalent Output Voltage[V]</text>
<path d="M401.50 219.50L404.30 223.00L401.50 226.50L398.70 223.00Z" fill="none" stroke="#2b56b5" stroke-width="1.3"/>
<path d="M399.90 241.00a1.6 1.6 0 1 0 3.20 0a1.6 1.6 0 1 0 -3.20 0Z" fill="#1d7a33"/>
<path d="M398.20 256.70H404.80L401.50 262.50Z" fill="none" stroke="#ec2a2a" stroke-width="1.3"/>
<path d="M399.40 277.00L403.60 277.00M400.02 275.52L402.98 278.48M401.50 274.90L401.50 279.10M402.98 275.52L400.02 278.48" fill="none" stroke="#22b9b9" stroke-width="1.7" stroke-linecap="round"/>
<path d="M398.55 295.00a2.95 2.95 0 1 0 5.90 0a2.95 2.95 0 1 0 -5.90 0Z" fill="none" stroke="#963fae" stroke-width="1.25"/>
<text x="408.3" y="228.80" font-size="17" font-family="'Liberation Sans', Arial, sans-serif" font-weight="bold" fill="#111">M=1</text>
<text x="408.3" y="246.80" font-size="17" font-family="'Liberation Sans', Arial, sans-serif" font-weight="bold" fill="#111">M=2</text>
<text x="408.3" y="265.10" font-size="17" font-family="'Liberation Sans', Arial, sans-serif" font-weight="bold" fill="#111">M=4</text>
<text x="408.3" y="282.80" font-size="17" font-family="'Liberation Sans', Arial, sans-serif" font-weight="bold" fill="#111">M=8</text>
<text x="408.3" y="300.80" font-size="17" font-family="'Liberation Sans', Arial, sans-serif" font-weight="bold" fill="#111">M=16</text>
<path d="M600.90 14.90V311.00M617.21 14.90V311.00M633.51 14.90V311.00M649.82 14.90V311.00M682.42 14.90V311.00M698.73 14.90V311.00M715.03 14.90V311.00M731.34 14.90V311.00M763.94 14.90V311.00M780.25 14.90V311.00M796.55 14.90V311.00M812.86 14.90V311.00M845.46 14.90V311.00M861.77 14.90V311.00M878.07 14.90V311.00M894.38 14.90V311.00M926.98 14.90V311.00M943.29 14.90V311.00M959.59 14.90V311.00M975.90 14.90V311.00M584.60 296.14H992.20M584.60 287.45H992.20M584.60 281.29H992.20M584.60 276.51H992.20M584.60 272.60H992.20M584.60 269.29H992.20M584.60 266.43H992.20M584.60 263.91H992.20M584.60 246.79H992.20M584.60 238.10H992.20M584.60 231.94H992.20M584.60 227.16H992.20M584.60 223.25H992.20M584.60 219.94H992.20M584.60 217.08H992.20M584.60 214.56H992.20M584.60 197.44H992.20M584.60 188.75H992.20M584.60 182.59H992.20M584.60 177.81H992.20M584.60 173.90H992.20M584.60 170.59H992.20M584.60 167.73H992.20M584.60 165.21H992.20M584.60 148.09H992.20M584.60 139.40H992.20M584.60 133.24H992.20M584.60 128.46H992.20M584.60 124.55H992.20M584.60 121.24H992.20M584.60 118.38H992.20M584.60 115.86H992.20M584.60 98.74H992.20M584.60 90.05H992.20M584.60 83.89H992.20M584.60 79.11H992.20M584.60 75.20H992.20M584.60 71.89H992.20M584.60 69.03H992.20M584.60 66.51H992.20M584.60 49.39H992.20M584.60 40.70H992.20M584.60 34.54H992.20M584.60 29.76H992.20M584.60 25.85H992.20M584.60 22.54H992.20M584.60 19.68H992.20M584.60 17.16H992.20" stroke="#dcdcdc" stroke-width="1" stroke-dasharray="1 1.6" fill="none"/>
<path d="M666.12 14.90V311.00M747.64 14.90V311.00M829.16 14.90V311.00M910.68 14.90V311.00M584.60 261.65H992.20M584.60 212.30H992.20M584.60 162.95H992.20M584.60 113.60H992.20M584.60 64.25H992.20" stroke="#7d7d7d" stroke-width="1.05" fill="none"/>
<path d="M754.9 281.5L754.9 311.0M757.9 311.0L758.5 303.2L759.3 291.9L760.1 280.6L760.7 272.8L760.8 277.6L761.1 284.6L761.3 291.5L761.4 296.3L761.8 294.1L762.4 291.0L762.9 287.9L763.3 285.7L763.6 281.1L764.0 274.5L764.5 267.6L765.0 262.3L765.4 259.0L765.8 256.8L766.2 255.2L766.6 254.0L767.0 253.5L767.3 253.7L767.6 253.8L768.0 252.9L768.4 250.6L768.8 247.5L769.2 244.1L769.6 241.1L770.0 238.5L770.4 236.0L770.9 233.7L771.3 231.7L771.8 230.2L772.2 229.2L772.7 228.2L773.2 227.0L773.7 225.4L774.1 223.7L774.6 221.9L775.0 220.0L775.3 218.2L775.5 216.5L775.8 214.4L776.4 211.4L777.5 207.2L778.9 202.1L780.4 196.7L781.8 191.8L783.2 187.4L784.5 183.2L785.8 179.3L787.1 175.7L788.3 172.6L789.4 170.0L790.5 167.5L791.6 165.0L792.6 162.5L793.4 160.0L794.4 157.6L795.4 155.0L796.6 152.3L797.8 149.5L799.2 146.6L800.7 143.6L802.3 140.5L804.1 137.3L805.9 134.1L807.9 131.1L810.0 128.2L812.2 125.4L814.5 122.8L816.8 120.4L819.0 118.2L821.1 116.3L823.3 114.6L825.7 113.2L828.2 112.2L830.9 111.6L833.7 111.3L836.4 111.1L839.1 111.0L841.7 111.1L844.4 111.5L847.1 112.3L849.8 113.6L852.5 115.2L855.2 117.2L857.9 119.5L860.6 122.1L863.4 125.0L866.1 128.0L868.6 131.1L871.0 134.2L873.3 137.4L875.5 140.5L877.5 143.6L879.3 146.7L881.0 149.8L882.5 152.6L883.8 155.0L884.7 156.6L885.3 157.7L885.8 158.7L886.4 160.0L887.2 161.7L888.1 163.5L889.0 165.5L890.0 167.5L891.0 169.5L892.0 171.5L893.1 173.7L894.3 176.1L895.6 179.0L897.0 182.2L898.4 185.5L899.6 188.6L900.6 191.4L901.5 194.1L902.3 196.7L903.2 199.3L904.1 202.0L905.0 204.8L905.9 207.5L906.8 210.0L907.7 212.4L908.6 214.6L909.5 216.8L910.4 218.9L911.3 220.9L912.1 222.8L913.0 224.8L913.9 227.0L915.1 229.8L916.4 233.1L917.6 236.1L918.4 238.2L919.3 243.8L920.2 245.7L921.1 256.0L922.0 263.9L922.9 257.7L923.8 259.6L924.7 272.6L925.6 263.9L926.5 266.4L927.4 272.6M928.5 287.5L929.1 287.5M930.5 281.3L931.5 287.5L932.5 296.1L933.5 296.1L934.5 287.5M936.5 296.1L937.5 287.5L938.5 311.0L939.5 311.0L940.5 311.0L941.5 296.1L942.5 296.1L943.5 311.0L944.5 276.5L945.5 296.1L946.5 311.0L947.5 287.5L948.5 287.5L949.5 296.1M951.5 311.0L952.5 311.0L953.5 311.0L954.5 311.0L955.5 311.0L956.5 311.0L957.5 287.5L958.5 296.1L959.5 296.1L960.5 311.0L961.5 311.0M964.5 281.3L965.5 296.1L966.5 311.0L967.5 296.1L968.5 296.1M970.5 296.1L971.5 287.5M973.5 311.0L974.5 296.1L975.5 296.1L976.5 296.1L977.5 281.3L978.5 287.5L979.5 311.0L980.5 296.1L981.5 276.5L982.5 296.1L983.5 311.0L984.5 287.5M986.5 296.1L987.1 296.1M988.5 311.0L989.5 311.0" fill="none" stroke="#2856b8" stroke-width="2.0" stroke-linejoin="round"/>
<path d="M674.1 288.2L674.5 290.0L675.2 292.6L675.9 295.2L676.3 297.0L676.7 290.8L677.3 281.9L678.0 272.3L678.7 263.9L679.4 257.4L680.1 251.6L680.8 246.0L681.4 240.0L681.9 233.7L682.4 227.4L682.9 220.6L683.6 213.0L684.7 203.6L686.1 192.9L687.5 182.8L688.6 175.0L689.3 170.7L689.8 168.6L690.2 167.2L690.7 165.0L691.2 161.8L691.6 158.3L692.1 154.4L693.0 149.6L694.4 143.3L696.2 135.8L698.0 128.6L699.3 122.9L700.0 119.4L700.2 117.2L700.3 115.8L700.5 114.3L700.9 112.9L701.2 111.8L701.6 110.8L702.0 109.8L702.4 108.7L702.8 107.6L703.1 106.6L703.5 105.6L703.9 104.6L704.2 103.6L704.6 102.7L705.0 101.8L705.4 100.9L705.8 100.0L706.1 99.1L706.5 98.3L706.9 97.5L707.2 96.7L707.6 96.0L708.0 95.2L708.4 94.5L708.8 93.8L709.1 93.1L709.5 92.5L709.9 91.9L710.2 91.3L710.6 90.7L711.0 90.2L711.4 89.6L711.8 89.1L712.1 88.6L712.5 88.2L712.9 87.7L713.2 87.3L713.6 86.9L714.0 86.6L714.4 86.2L714.8 85.9L715.1 85.6L715.5 85.3L715.9 85.1L716.2 84.8L716.6 84.6L717.0 84.4L717.4 84.3L717.8 84.1L718.1 84.0L718.5 83.9L718.9 83.9L719.2 83.8L719.6 83.8L720.0 83.8L720.4 83.8L720.8 83.9L721.1 83.9L721.5 84.0L721.9 84.1L722.2 84.2L722.6 84.4L723.0 84.5L723.4 84.7L723.8 84.9L724.1 85.1L724.5 85.3L724.9 85.6L725.2 85.9L725.6 86.2L726.0 86.5L726.4 86.8L726.8 87.2L727.1 87.6L727.5 88.0L727.9 88.4L728.2 88.8L728.6 89.3L729.0 89.7L729.4 90.2L729.8 90.7L730.1 91.3L730.5 91.8L730.9 92.4L731.2 93.0L731.6 93.6L732.0 94.2L732.4 94.9L732.8 95.5L733.1 96.2L733.5 96.9L733.9 97.7L734.2 98.4L734.6 99.2L735.0 100.0L735.4 100.8L735.8 101.6L736.1 102.5L736.5 103.3L736.9 104.2L737.2 105.1L737.6 106.0L738.0 107.0L738.3 107.7L738.6 108.2L738.9 109.2L739.5 111.0L740.4 113.8L741.5 117.5L742.7 121.7L743.9 126.4L745.2 131.8L746.6 138.0L748.0 144.2L749.3 149.6L750.3 153.9L751.2 157.4L752.2 160.9L753.2 165.0L754.5 170.0L755.9 175.5L757.3 181.2L758.6 186.4L759.6 191.1L760.5 195.6L761.3 199.9L762.1 204.3L763.0 208.9L763.9 213.7L764.9 218.2L765.7 222.1L766.5 225.2L767.2 227.7L767.9 229.8L768.5 231.7L769.1 233.2L769.7 234.3L770.2 235.3L770.8 236.4L771.4 237.9L772.0 239.5L772.6 241.0L773.2 242.3L773.8 243.3L774.5 244.0L775.1 244.6L775.5 245.0L776.4 251.6L777.3 247.9L778.2 243.8L779.1 247.9L780.0 242.9L780.9 245.7L781.8 253.0L782.7 261.6L783.6 259.6M776.9 256.0L777.6 249.1L778.4 259.6L779.1 250.3L779.9 250.3L780.6 259.6L781.4 246.8L782.1 256.0L782.9 259.6L783.6 251.6L784.4 259.6L785.1 256.0L785.9 261.6L786.6 263.9L787.4 257.7L788.1 250.3L788.9 259.6L789.6 253.0L790.4 276.5L791.1 259.6L791.9 269.3L792.6 257.7L793.4 257.7L794.1 254.4L794.9 269.3L795.6 254.4L796.4 259.6L797.1 251.6L797.9 263.9L798.6 266.4L799.4 261.6L800.1 266.4L800.9 263.9L801.6 253.0L802.4 287.5L803.1 263.9L803.9 269.3L804.6 254.4L805.4 276.5L806.1 287.5L806.9 263.9L807.6 256.0L808.4 263.9L809.1 263.9L809.9 272.6L810.6 266.4L811.4 287.5L812.1 276.5L812.9 281.3L813.6 272.6L814.4 287.5L815.1 276.5L815.9 287.5L816.6 281.3L817.4 276.5L818.1 261.6L818.9 269.3L819.6 269.3L820.4 287.5L821.1 281.3L821.9 272.6L822.6 269.3L823.4 272.6L824.1 281.3L824.9 261.6L825.6 263.9L826.4 287.5L827.1 276.5L827.9 272.6L828.6 276.5L829.4 281.3L830.1 269.3L830.9 269.3L831.6 311.0L832.4 287.5L833.1 296.1L833.9 263.9L834.6 276.5L835.4 287.5L836.1 287.5L836.9 272.6L837.6 311.0L838.4 276.5L839.1 276.5L839.9 281.3L840.6 261.6L841.4 272.6L842.1 269.3L842.9 276.5L843.6 269.3L844.4 287.5L845.1 311.0L845.9 281.3L846.6 276.5L847.4 311.0L848.1 269.3L848.9 281.3L849.6 272.6L850.4 287.5M851.9 311.0L852.6 296.1L853.4 287.5L854.1 311.0L854.9 272.6L855.6 287.5L856.4 276.5L857.1 276.5L857.9 281.3L858.6 296.1L859.4 311.0L860.1 276.5L860.9 287.5L861.6 296.1L862.4 287.5L863.1 287.5L863.9 311.0L864.6 266.4L865.4 287.5L866.1 296.1L866.9 281.3L867.6 287.5L868.4 276.5L869.1 287.5L869.9 269.3L870.6 287.5L871.4 296.1L872.1 296.1L872.9 281.3L873.6 311.0L874.4 287.5L875.1 276.5M876.6 276.5L877.4 296.1L878.1 287.5L878.9 287.5L879.6 311.0L880.4 311.0L881.1 287.5L881.9 276.5L882.6 296.1L883.4 296.1L884.1 311.0L884.9 311.0L885.6 281.3M887.1 296.1L887.9 287.5L888.6 296.1L889.4 296.1L890.1 296.1L890.9 287.5M892.4 296.1L893.1 287.5L893.9 287.5M895.4 311.0L896.1 311.0L896.9 287.5L897.6 311.0L898.4 296.1L899.1 296.1L899.9 311.0L900.6 296.1L901.4 311.0L902.1 311.0M903.6 296.1L904.2 296.1M905.1 311.0L905.8 311.0M906.6 311.0L907.4 281.3L908.1 272.6M910.4 287.5L911.0 287.5M911.9 287.5L912.6 287.5M914.1 296.1L914.8 296.1M915.6 311.0L916.2 311.0M917.1 281.3L917.9 296.1L918.6 296.1M920.1 311.0L920.9 281.3L921.6 296.1M923.1 281.3L923.8 281.3M924.6 296.1L925.4 311.0L926.1 296.1L926.9 311.0L927.6 311.0L928.4 311.0M929.9 296.1L930.6 296.1L931.4 311.0L932.1 287.5L932.9 296.1M934.4 287.5L935.0 287.5M935.9 296.1L936.5 296.1M939.6 296.1L940.4 281.3L941.1 311.0L941.9 311.0L942.6 296.1L943.4 311.0L944.1 296.1L944.9 296.1L945.6 296.1L946.4 296.1L947.1 296.1L947.9 311.0L948.6 311.0L949.4 311.0M953.1 296.1L953.9 272.6M955.4 296.1L956.1 287.5L956.9 296.1L957.6 311.0L958.4 287.5L959.1 296.1L959.9 311.0M961.4 311.0L962.0 311.0M962.9 311.0L963.6 311.0M965.1 287.5L965.9 296.1L966.6 287.5L967.4 281.3L968.1 311.0M969.6 287.5L970.4 311.0L971.1 311.0M972.6 311.0L973.4 287.5L974.1 296.1L974.9 311.0L975.6 311.0M977.1 311.0L977.9 311.0L978.6 311.0L979.4 311.0L980.1 311.0M982.4 281.3L983.0 281.3M983.9 311.0L984.6 311.0M986.1 311.0L986.9 311.0M988.4 311.0L989.1 311.0" fill="none" stroke="#2a7b3c" stroke-width="2.0" stroke-linejoin="round"/>
<path d="M638.5 242.7L639.2 232.7L640.2 218.2L641.3 202.8L642.2 190.0L642.8 181.0L643.2 173.9L643.6 167.3L644.2 160.0L645.1 151.6L646.2 142.7L647.3 133.8L648.3 125.0L649.2 115.8L650.1 106.4L650.9 97.8L651.5 91.6L651.9 88.4L652.1 87.5L652.3 87.6L652.5 87.2L652.8 86.2L653.0 85.2L653.2 84.2L653.5 83.3L653.8 82.4L654.0 81.5L654.2 80.6L654.5 79.8L654.8 78.9L655.0 78.1L655.2 77.4L655.5 76.6L655.8 75.9L656.0 75.2L656.2 74.6L656.5 73.9L656.8 73.3L657.0 72.7L657.2 72.2L657.5 71.6L657.8 71.1L658.0 70.6L658.2 70.2L658.5 69.7L658.8 69.3L659.0 69.0L659.2 68.6L659.5 68.3L659.8 68.0L660.0 67.7L660.2 67.4L660.5 67.2L660.8 67.0L661.0 66.8L661.2 66.7L661.5 66.5L661.8 66.4L662.0 66.4L662.2 66.3L662.5 66.3L662.8 66.3L663.0 66.3L663.2 66.4L663.5 66.4L663.8 66.5L664.0 66.7L664.2 66.8L664.5 67.0L664.8 67.2L665.0 67.4L665.2 67.6L665.5 67.9L665.8 68.1L666.0 68.4L666.2 68.8L666.5 69.1L666.8 69.5L667.0 69.9L667.2 70.3L667.5 70.7L667.8 71.2L668.0 71.7L668.2 72.2L668.5 72.7L668.8 73.3L669.0 73.9L669.2 74.5L669.5 75.1L669.8 75.8L670.0 76.4L670.2 77.1L670.5 77.8L670.8 78.6L671.0 79.4L671.2 80.1L671.5 81.0L671.8 81.8L672.0 82.6L672.2 83.5L672.5 84.4L672.8 85.4L673.0 86.3L673.2 87.3L673.5 88.3L673.7 89.2L673.9 90.1L674.2 91.1L674.5 92.5L674.9 94.1L675.3 96.0L675.8 98.2L676.5 101.0L677.4 104.7L678.5 109.2L679.7 113.8L681.0 118.0L682.4 121.7L683.9 125.2L685.4 128.6L686.8 131.8L688.2 135.0L689.5 138.1L690.8 140.9L692.1 143.4L693.4 145.3L694.7 146.8L696.0 148.1L697.5 149.6L699.2 151.4L701.1 153.2L702.9 155.0L704.6 156.8L706.2 158.6L707.7 160.4L709.1 161.9L710.0 163.0L710.9 163.6L711.7 164.9L712.6 166.9L713.4 166.3L714.3 167.7L715.1 168.7L716.0 169.9L716.8 169.8L717.7 171.4L718.5 172.2L719.4 174.7L720.2 175.6L721.1 176.6L721.9 176.3L722.8 179.4L723.6 175.4L724.5 177.3L725.3 177.8L726.2 177.4L727.0 179.1L727.9 178.9L728.7 178.7L729.6 181.7L730.4 178.6L731.3 180.6L732.1 180.5L733.0 182.7L733.8 182.5L734.7 180.3L735.5 183.1L736.4 183.3L737.2 182.6L738.1 181.9L738.9 186.8L739.8 182.6L740.6 184.6L741.5 184.3L742.3 187.2L743.2 186.1L744.0 185.0L744.9 187.4L745.7 188.2L746.6 188.1L747.4 188.3L748.3 186.7L749.1 187.6L750.0 188.6L750.8 187.1L751.7 189.8L752.5 190.5L753.4 185.8L754.2 190.1L755.1 187.4L755.9 189.9L756.8 190.4L757.6 189.7L758.5 191.9L759.3 192.1L760.2 191.3L761.0 191.7L761.9 190.2L762.7 188.8L763.6 193.2L764.4 192.8L765.3 190.7L766.1 191.1L767.0 190.4L767.8 193.1L768.7 191.3L769.5 192.3L770.4 194.8L771.2 191.8L772.1 194.9L772.9 191.9L773.8 193.6L774.6 193.6L775.5 190.7L776.3 191.8L777.2 193.6L778.0 194.0L778.9 196.2L779.7 193.4L780.6 194.6L781.4 197.2L782.3 199.0L783.1 196.5L784.0 197.1L784.8 195.8L785.7 199.1L786.5 199.2L787.4 197.4L788.2 198.3L789.1 197.4L789.9 197.6L790.8 201.4L791.6 204.8L792.5 200.6L793.3 202.4L794.2 201.1L795.0 207.5L795.9 202.5L796.7 202.6L797.6 204.3L798.4 202.8L799.3 203.9L800.1 204.2L801.0 202.8L801.8 203.2L802.7 203.8L803.5 205.7L804.4 206.7L805.2 206.3L806.1 207.3L806.9 210.1L807.8 208.0L808.6 207.3L809.5 210.7L810.3 212.5L811.2 209.3L812.0 212.5L812.9 214.8L813.7 212.3L814.6 215.8L815.4 211.7L816.3 214.1L817.1 213.0L818.0 210.8L818.8 211.3L819.7 214.1L820.5 220.3L821.4 215.5L822.2 217.6L823.1 212.7L823.9 211.5L824.8 213.6L825.6 213.9L826.5 214.3L827.3 214.3L828.2 217.1L829.0 214.1L829.9 217.4L830.7 219.9L831.6 216.8L832.4 213.4L833.3 217.9L834.1 222.9L835.0 214.8L835.8 217.4L836.7 216.8L837.5 219.6L838.4 217.4L839.2 215.0L840.1 220.9L840.9 217.6L841.8 218.5L842.6 222.2L843.5 219.3L844.3 218.5L845.2 222.9L846.0 217.6L846.9 224.0L847.7 217.9L848.6 219.6L849.4 220.9L850.3 224.0L851.1 224.3L852.0 229.9L852.8 222.5L853.7 223.2L854.5 221.5L855.4 220.6L856.2 223.2L857.1 225.1L857.9 221.5L858.8 224.7L859.6 225.1L860.5 229.4L861.3 222.9L862.2 228.5L863.0 221.2L863.9 229.9L864.7 228.9L865.6 227.6L866.4 230.4L867.3 234.2L868.1 233.0L869.0 232.5L869.8 230.4L870.7 226.7L871.5 228.0L872.4 229.4L873.2 228.5L874.1 241.2L874.9 234.2L875.8 234.2L876.6 236.7L877.5 230.9L878.3 235.4L879.2 238.1L880.0 230.4L880.9 236.1L881.7 234.8L882.6 241.2L883.4 230.9L884.3 234.2L885.1 229.9L886.0 227.6L886.8 232.5L887.7 236.7L888.5 238.8L889.4 229.9L890.2 236.7L891.1 234.2L891.9 235.4L892.8 257.7L893.6 236.7L894.5 236.7L895.3 236.7L896.2 239.6L897.0 234.8L897.9 235.4L898.7 236.1L899.6 245.7L900.4 238.1L901.3 238.1L902.1 238.8L903.0 246.8L903.8 238.1L904.7 242.9L905.5 240.4L906.4 249.1L907.2 242.0L908.1 242.9L908.9 246.8L909.8 239.6L910.6 250.3L911.5 247.9L912.3 236.7L913.2 241.2L914.0 242.0L914.9 237.4L915.7 246.8L916.6 243.8L917.4 250.3L918.3 246.8L919.1 245.7L920.0 247.9L920.8 254.4L921.7 251.6L922.5 240.4L923.4 241.2L924.2 249.1L925.1 253.0L925.9 246.8L926.8 246.8L927.6 242.0L928.5 242.9L929.3 241.2L930.2 241.2L931.0 238.1L931.9 233.0L932.7 238.8L933.6 244.8L934.4 231.9L935.3 242.0L936.1 238.8L937.0 240.4L937.8 233.0L938.7 234.8L939.5 237.4L940.4 239.6L941.2 235.4L942.1 230.9L942.9 238.1L943.8 233.6L944.6 231.4L945.5 229.9L946.3 232.5L947.2 234.8L948.0 235.4L948.9 225.1L949.7 229.9L950.6 231.9L951.4 228.5L952.3 228.5L953.1 228.0L954.0 225.5L954.8 227.2L955.7 220.3L956.5 229.9L957.4 224.3L958.2 224.0L959.1 224.7L959.9 225.5L960.8 223.2L961.6 227.6L962.5 223.2L963.3 228.5L964.2 224.0L965.0 226.7L965.9 225.5L966.7 225.9L967.6 224.7L968.4 224.3L969.3 220.3L970.1 228.0L971.0 224.7L971.8 224.7L972.7 225.9L973.5 227.2L974.4 226.3L975.2 228.9L976.1 225.9L976.9 236.1L977.8 223.6L978.6 229.4L979.5 233.0L980.3 228.0L981.2 228.9L982.0 229.4L982.9 235.4L983.7 233.0L984.6 230.9L985.4 235.4L986.3 236.7L987.1 245.7L988.0 235.4L988.8 246.8L989.7 236.1L990.5 246.8L991.4 238.8L992.2 238.8" fill="none" stroke="#ee2b2b" stroke-width="2.0" stroke-linejoin="round"/>
<path d="M620.4 184.6L620.7 179.7L621.2 172.8L621.8 164.9L622.3 157.0L622.8 148.7L623.4 139.6L623.9 131.2L624.3 125.0L624.5 122.4L624.5 122.4L624.6 122.4L624.8 120.0L625.3 113.7L626.1 105.0L626.8 96.3L627.4 90.0L627.8 87.1L628.0 86.2L628.2 85.9L628.4 85.0L628.7 83.2L629.0 81.1L629.4 78.8L629.9 76.5L630.5 73.9L631.1 71.0L631.8 68.3L632.5 66.3L633.2 65.1L633.9 64.4L634.6 64.1L635.0 63.8L635.6 64.5L636.4 65.6L637.3 66.9L638.1 68.4L638.9 70.2L639.7 72.2L640.5 74.4L641.1 76.5L641.6 78.7L641.9 80.9L642.3 83.1L642.7 85.0L643.3 86.5L644.0 87.8L644.7 88.9L645.2 90.0L645.5 91.0L645.6 91.9L645.8 92.9L646.2 94.2L647.0 96.0L648.0 98.2L649.1 100.5L650.3 102.9L651.6 105.3L653.0 107.9L654.3 110.4L655.4 112.6L656.1 114.5L656.6 116.1L657.0 117.6L657.5 119.0L658.2 120.5L659.1 121.9L659.9 123.2L660.5 124.3L660.8 125.0L661.0 125.4L661.2 125.8L661.6 126.5L662.4 127.7L663.4 129.1L664.5 130.7L665.6 132.2L666.8 133.7L668.1 135.2L669.5 136.6L670.7 137.9L671.8 138.9L672.8 139.8L673.8 140.5L674.8 141.2L675.9 141.8L677.1 142.4L678.3 142.9L679.4 143.3L680.3 143.5L681.0 143.7L681.9 143.8L683.2 144.3L685.3 145.3L687.9 146.6L690.4 147.9L692.1 148.8L693.0 149.7L693.8 149.9L694.7 150.2L695.5 150.5L696.4 152.9L697.2 153.2L698.1 154.0L698.9 154.3L699.8 154.9L700.6 156.3L701.5 156.0L702.3 157.7L703.2 157.2L704.0 158.8L704.9 158.7L705.7 159.3L706.6 160.3L707.4 161.3L708.3 162.1L709.1 163.1L710.0 161.9L710.8 163.1L711.7 162.8L712.5 164.5L713.4 165.1L714.2 166.4L715.1 166.7L715.9 168.4L716.8 167.0L717.6 167.5L718.5 167.6L719.3 168.1L720.2 170.6L721.0 172.3L721.9 170.0L722.7 170.8L723.6 172.4L724.4 172.8L725.3 171.7L726.1 171.3L727.0 172.9L727.8 174.3L728.7 173.3L729.5 173.5L730.4 176.1L731.2 174.7L732.1 176.8L732.9 176.2L733.8 176.2L734.6 177.0L735.5 179.1L736.3 177.6L737.2 179.9L738.0 178.1L738.9 181.3L739.7 180.2L740.6 180.6L741.4 181.3L742.3 180.8L743.1 181.3L744.0 180.1L744.8 182.0L745.7 181.8L746.5 184.8L747.4 182.7L748.2 183.4L749.1 182.9L749.9 183.0L750.8 185.8L751.6 186.5L752.5 185.9L753.3 185.8L754.2 183.6L755.0 187.8L755.9 185.1L756.7 183.7L757.6 185.0L758.4 186.3L759.3 185.5L760.1 183.6L761.0 183.2L761.8 184.0L762.7 183.0L763.5 181.2L764.4 182.5L765.2 179.4L766.1 182.0L766.9 178.2L767.8 181.1L768.6 177.6L769.5 178.3L770.3 179.5L771.2 177.3L772.0 176.5L772.9 176.0L773.7 176.0L774.6 175.9L775.4 175.6L776.3 174.8L777.1 173.9L778.0 174.9L778.8 175.0L779.7 175.8L780.5 175.0L781.4 174.4L782.2 174.9L783.1 178.5L783.9 178.7L784.8 179.8L785.6 179.9L786.5 178.4L787.3 181.7L788.2 182.0L789.0 183.2L789.9 186.3L790.7 186.5L791.6 186.8L792.4 188.0L793.3 188.3L794.1 189.4L795.0 190.4L795.8 193.9L796.7 191.5L797.5 193.5L798.4 196.8L799.2 197.9L800.1 200.1L800.9 203.5L801.8 199.7L802.6 202.6L803.5 200.9L804.3 201.2L805.2 207.5L806.0 208.2L806.9 205.7L807.7 208.9L808.6 209.9L809.4 209.7L810.3 208.4L811.1 212.7L812.0 209.9L812.8 208.2L813.7 212.3L814.5 212.3L815.4 210.8L816.2 210.1L817.1 210.3L817.9 211.5L818.8 209.1L819.6 214.1L820.5 208.9L821.3 211.3L822.2 213.2L823.0 216.0L823.9 209.1L824.7 211.9L825.6 211.3L826.4 208.8L827.3 212.5L828.1 209.5L829.0 208.9L829.8 206.8L830.7 209.1L831.5 205.7L832.4 210.1L833.2 208.4L834.1 208.8L834.9 208.6L835.8 202.6L836.6 204.3L837.5 204.0L838.3 202.8L839.2 202.0L840.0 204.2L840.9 201.8L841.7 200.1L842.6 202.6L843.4 200.4L844.3 200.4L845.1 201.2L846.0 201.4L846.8 199.8L847.7 198.0L848.5 197.1L849.4 200.7L850.2 198.0L851.1 197.4L851.9 201.7L852.8 201.2L853.6 198.1L854.5 198.0L855.3 198.4L856.2 197.0L857.0 198.9L857.9 198.3L858.7 201.2L859.6 201.7L860.4 203.9L861.3 202.5L862.1 203.9L863.0 204.9L863.8 203.0L864.7 204.0L865.5 206.2L866.4 205.6L867.2 205.9L868.1 206.3L868.9 209.3L869.8 207.2L870.6 210.1L871.5 209.1L872.3 211.5L873.2 206.8L874.0 215.0L874.9 209.5L875.7 214.3L876.6 208.6L877.4 215.3L878.3 210.8L879.1 213.0L880.0 210.7L880.8 216.3L881.7 214.1L882.5 212.3L883.4 211.5L884.2 214.8L885.1 218.2L885.9 214.1L886.8 214.8L887.6 212.7L888.5 213.9L889.3 215.3L890.2 213.2L891.0 209.5L891.9 211.3L892.7 213.2L893.6 210.8L894.4 215.5L895.3 213.2L896.1 211.7L897.0 212.1L897.8 212.5L898.7 210.8L899.5 207.0L900.4 210.7L901.2 209.5L902.1 206.8L902.9 216.6L903.8 211.1L904.6 208.4L905.5 213.9L906.3 211.1L907.2 207.3L908.0 209.9L908.9 209.7L909.7 205.9L910.6 214.8L911.4 207.7L912.3 213.2L913.1 209.3L914.0 208.9L914.8 209.9L915.7 210.8L916.5 208.6L917.4 209.5L918.2 208.6L919.1 208.4L919.9 209.1L920.8 206.8L921.6 211.3L922.5 214.8L923.3 214.6L924.2 210.5L925.0 213.2L925.9 210.8L926.7 209.7L927.6 206.5L928.4 212.3L929.3 208.2L930.1 212.1L931.0 207.0L931.8 213.9L932.7 205.4L933.5 208.8L934.4 203.8L935.2 207.3L936.1 209.7L936.9 208.2L937.8 208.6L938.6 206.3L939.5 204.3L940.3 206.0L941.2 206.8L942.0 206.7L942.9 202.8L943.7 207.9L944.6 204.3L945.4 207.3L946.3 207.0L947.1 204.0L948.0 208.6L948.8 202.0L949.7 201.7L950.5 206.7L951.4 206.8L952.2 204.8L953.1 204.8L953.9 205.6L954.8 202.0L955.6 199.6L956.5 203.8L957.3 202.1L958.2 204.0L959.0 203.2L959.9 204.5L960.7 203.8L961.6 203.5L962.4 204.6L963.3 203.6L964.1 205.6L965.0 203.6L965.8 207.9L966.7 203.6L967.5 205.2L968.4 204.0L969.2 205.2L970.1 205.4L970.9 205.2L971.8 206.3L972.6 205.7L973.5 210.5L974.3 207.5L975.2 205.7L976.0 209.1L976.9 202.2L977.7 203.9L978.6 210.1L979.4 203.8L980.3 206.0L981.1 205.9L982.0 204.3L982.8 208.4L983.7 206.5L984.5 205.6L985.4 208.9L986.2 208.0L987.1 207.5L987.9 207.0L988.8 209.9L989.6 208.0L990.5 209.3L991.3 206.3L992.2 209.1" fill="none" stroke="#22b8b8" stroke-width="2.0" stroke-linejoin="round"/>
<path d="M602.4 269.4L602.7 264.0L603.2 256.4L603.7 247.4L604.2 238.0L604.8 227.1L605.4 214.5L606.0 203.0L606.4 195.0L607.2 183.4L608.3 166.8L609.5 148.1L610.7 130.0L612.0 111.4L613.3 91.4L614.5 73.5L615.4 61.0L616.4 59.7L617.9 57.8L619.4 55.9L620.4 54.6L621.2 57.1L622.3 60.7L623.6 64.7L624.8 68.4L625.8 71.6L626.9 74.6L627.9 77.6L628.9 80.6L629.9 83.9L631.0 87.3L632.0 90.5L633.0 93.2L634.0 95.2L635.1 96.7L636.1 98.0L637.1 99.3L638.1 100.6L639.1 101.8L640.1 103.0L641.1 104.4L642.1 106.1L643.1 107.9L644.2 109.7L645.2 111.5L646.2 113.1L647.2 114.6L648.2 116.1L649.3 117.7L650.5 119.4L651.8 121.3L653.0 123.0L653.9 124.3L654.4 125.0L654.5 125.2L654.8 125.5L655.4 126.1L656.6 127.3L658.2 128.8L659.9 130.4L661.6 132.2L663.2 134.2L664.7 136.4L666.2 138.5L667.7 140.4L669.1 141.9L670.3 143.2L671.6 144.4L672.8 145.5L674.0 146.6L675.3 147.7L676.4 148.6L677.4 149.1L678.2 149.1L678.8 148.6L679.4 148.0L680.0 147.5L680.7 147.0L681.4 146.4L682.2 145.9L683.2 145.7L684.4 145.9L685.8 146.4L687.3 147.0L688.6 147.9L689.8 148.9L690.9 150.1L691.9 151.5L693.0 153.2L694.2 155.2L695.4 157.5L696.5 159.9L697.5 162.1L698.2 164.1L698.7 165.9L699.3 167.9L700.0 170.0L701.0 172.5L702.1 175.2L703.3 178.0L704.6 180.6L705.9 183.3L707.3 186.1L708.6 188.3L710.0 189.5L711.3 189.1L712.7 187.7L714.0 185.7L715.3 183.7L716.5 181.7L717.6 179.3L718.8 177.2L719.9 175.5L721.0 174.5L722.2 174.0L723.4 173.8L724.5 173.7L725.6 173.8L726.8 174.0L728.0 174.5L729.1 175.2L730.3 176.3L731.5 177.6L732.7 179.1L733.7 180.6L734.6 182.1L735.3 183.7L736.0 185.3L736.7 186.7L737.5 188.1L738.2 189.4L739.0 190.6L739.8 191.3L740.6 191.6L741.4 191.4L742.1 191.0L742.9 190.5L743.7 189.7L744.6 188.6L745.4 187.5L745.9 186.7L746.7 186.3L747.6 185.0L748.4 184.9L749.3 184.0L750.1 184.9L751.0 183.7L751.9 183.7L752.7 184.6L753.6 182.5L754.4 183.8L755.3 184.4L756.1 183.2L757.0 183.2L757.8 182.6L758.7 180.9L759.5 181.3L760.4 179.2L761.2 180.5L762.1 179.2L762.9 179.2L763.8 180.3L764.6 178.1L765.5 177.3L766.3 176.5L767.2 178.1L768.0 176.1L768.9 175.7L769.7 177.2L770.6 175.9L771.4 175.0L772.3 177.4L773.1 175.8L774.0 178.2L774.8 176.5L775.7 175.6L776.5 177.3L777.4 176.8L778.2 179.0L779.1 178.4L779.9 178.5L780.8 177.7L781.6 178.9L782.5 178.4L783.3 179.4L784.2 180.2L785.0 180.3L785.9 180.9L786.7 182.2L787.6 182.0L788.4 184.3L789.3 184.1L790.1 184.5L791.0 186.2L791.8 186.0L792.7 186.5L793.5 188.5L794.4 185.8L795.2 188.2L796.1 187.8L796.9 192.3L797.8 187.6L798.6 189.6L799.5 190.5L800.3 189.7L801.2 188.7L802.0 191.9L802.9 188.8L803.7 191.5L804.6 188.9L805.4 189.8L806.3 188.9L807.1 189.4L808.0 191.4L808.8 190.8L809.7 189.7L810.5 190.6L811.4 190.2L812.2 191.4L813.1 189.3L813.9 187.4L814.8 188.9L815.6 189.5L816.5 191.2L817.3 190.2L818.2 188.8L819.0 190.4L819.9 189.7L820.7 191.1L821.6 191.3L822.4 190.8L823.3 191.7L824.1 192.0L825.0 191.3L825.8 192.0L826.7 194.1L827.5 190.6L828.4 189.5L829.2 190.7L830.1 191.4L830.9 192.1L831.8 191.5L832.6 190.6L833.5 189.2L834.3 190.1L835.2 190.1L836.0 191.0L836.9 189.5L837.7 190.3L838.6 187.4L839.4 188.7L840.3 189.0L841.1 186.9L842.0 186.7L842.8 188.3L843.7 189.7L844.5 186.8L845.4 188.4L846.2 187.0L847.1 188.7L847.9 187.9L848.8 187.6L849.6 188.5L850.5 189.0L851.3 187.0L852.2 188.7L853.0 187.2L853.9 188.1L854.7 188.8L855.6 188.7L856.4 189.9L857.3 189.9L858.1 189.7L859.0 190.0L859.8 191.3L860.7 189.8L861.5 190.6L862.4 189.6L863.2 192.0L864.1 189.1L864.9 191.7L865.8 190.8L866.6 191.5L867.5 194.1L868.3 192.6L869.2 191.1L870.0 190.9L870.9 192.5L871.7 190.0L872.6 189.9L873.4 191.2L874.3 188.6L875.1 189.5L876.0 190.5L876.8 187.8L877.7 187.8L878.5 187.8L879.4 188.1L880.2 186.9L881.1 184.7L881.9 185.9L882.8 186.0L883.6 185.3L884.5 182.8L885.3 182.5L886.2 185.5L887.0 185.4L887.9 184.6L888.7 184.8L889.6 186.6L890.4 186.2L891.3 185.6L892.1 188.4L893.0 188.7L893.8 188.9L894.7 189.0L895.5 189.8L896.4 191.6L897.2 190.6L898.1 190.0L898.9 192.5L899.8 192.7L900.6 192.7L901.5 190.4L902.3 192.4L903.2 193.2L904.0 190.4L904.9 190.5L905.7 191.9L906.6 191.0L907.4 190.4L908.3 189.1L909.1 188.9L910.0 187.6L910.8 187.5L911.7 185.9L912.5 185.2L913.4 185.9L914.2 186.8L915.1 188.5L915.9 186.8L916.8 187.6L917.6 187.9L918.5 186.5L919.3 188.4L920.2 189.5L921.0 189.8L921.9 192.9L922.7 192.1L923.6 192.7L924.4 192.8L925.3 193.7L926.1 193.7L927.0 195.5L927.8 196.7L928.7 196.7L929.5 199.5L930.4 199.3L931.2 199.2L932.1 198.0L932.9 199.8L933.8 202.5L934.6 200.2L935.5 201.0L936.3 201.9L937.2 201.3L938.0 203.1L938.9 202.3L939.7 203.8L940.6 206.2L941.4 204.7L942.3 204.3L943.1 202.8L944.0 206.7L944.8 206.0L945.7 208.7L946.5 207.9L947.4 210.4L948.2 206.8L949.1 206.0L949.9 209.4L950.8 206.1L951.6 207.4L952.5 208.7L953.3 208.0L954.2 210.6L955.0 208.2L955.9 208.4L956.7 211.6L957.6 209.1L958.4 210.7L959.3 211.1L960.1 211.2L961.0 210.1L961.8 211.4L962.7 209.8L963.5 209.1L964.4 212.0L965.2 213.5L966.1 212.4L966.9 216.5L967.8 215.0L968.6 215.9L969.5 213.5L970.3 214.4L971.2 214.7L972.0 220.3L972.9 215.4L973.7 215.6L974.6 219.0L975.4 213.1L976.3 215.8L977.1 213.3L978.0 216.5L978.8 221.9L979.7 215.3L980.5 218.4L981.4 218.1L982.2 217.0L983.1 221.9L983.9 217.8L984.8 221.7L985.6 217.1L986.5 218.2L987.3 219.1L988.2 219.4L989.0 218.2L989.9 219.6L990.7 224.3L991.6 217.8" fill="none" stroke="#8f45a9" stroke-width="2.0" stroke-linejoin="round"/>
<rect x="911.2" y="15.5" width="80.5" height="122" fill="#fff"/>
<path d="M584.60 311.00v-4M584.60 14.90v4M600.90 311.00v-2.5M600.90 14.90v2.5M617.21 311.00v-2.5M617.21 14.90v2.5M633.51 311.00v-2.5M633.51 14.90v2.5M649.82 311.00v-2.5M649.82 14.90v2.5M666.12 311.00v-4M666.12 14.90v4M682.42 311.00v-2.5M682.42 14.90v2.5M698.73 311.00v-2.5M698.73 14.90v2.5M715.03 311.00v-2.5M715.03 14.90v2.5M731.34 311.00v-2.5M731.34 14.90v2.5M747.64 311.00v-4M747.64 14.90v4M763.94 311.00v-2.5M763.94 14.90v2.5M780.25 311.00v-2.5M780.25 14.90v2.5M796.55 311.00v-2.5M796.55 14.90v2.5M812.86 311.00v-2.5M812.86 14.90v2.5M829.16 311.00v-4M829.16 14.90v4M845.46 311.00v-2.5M845.46 14.90v2.5M861.77 311.00v-2.5M861.77 14.90v2.5M878.07 311.00v-2.5M878.07 14.90v2.5M894.38 311.00v-2.5M894.38 14.90v2.5M910.68 311.00v-4M910.68 14.90v4M926.98 311.00v-2.5M926.98 14.90v2.5M943.29 311.00v-2.5M943.29 14.90v2.5M959.59 311.00v-2.5M959.59 14.90v2.5M975.90 311.00v-2.5M975.90 14.90v2.5M992.20 311.00v-4M992.20 14.90v4M584.60 311.00h4M992.20 311.00h-4M584.60 296.14h2.5M992.20 296.14h-2.5M584.60 287.45h2.5M992.20 287.45h-2.5M584.60 281.29h2.5M992.20 281.29h-2.5M584.60 276.51h2.5M992.20 276.51h-2.5M584.60 272.60h2.5M992.20 272.60h-2.5M584.60 269.29h2.5M992.20 269.29h-2.5M584.60 266.43h2.5M992.20 266.43h-2.5M584.60 263.91h2.5M992.20 263.91h-2.5M584.60 261.65h4M992.20 261.65h-4M584.60 246.79h2.5M992.20 246.79h-2.5M584.60 238.10h2.5M992.20 238.10h-2.5M584.60 231.94h2.5M992.20 231.94h-2.5M584.60 227.16h2.5M992.20 227.16h-2.5M584.60 223.25h2.5M992.20 223.25h-2.5M584.60 219.94h2.5M992.20 219.94h-2.5M584.60 217.08h2.5M992.20 217.08h-2.5M584.60 214.56h2.5M992.20 214.56h-2.5M584.60 212.30h4M992.20 212.30h-4M584.60 197.44h2.5M992.20 197.44h-2.5M584.60 188.75h2.5M992.20 188.75h-2.5M584.60 182.59h2.5M992.20 182.59h-2.5M584.60 177.81h2.5M992.20 177.81h-2.5M584.60 173.90h2.5M992.20 173.90h-2.5M584.60 170.59h2.5M992.20 170.59h-2.5M584.60 167.73h2.5M992.20 167.73h-2.5M584.60 165.21h2.5M992.20 165.21h-2.5M584.60 162.95h4M992.20 162.95h-4M584.60 148.09h2.5M992.20 148.09h-2.5M584.60 139.40h2.5M992.20 139.40h-2.5M584.60 133.24h2.5M992.20 133.24h-2.5M584.60 128.46h2.5M992.20 128.46h-2.5M584.60 124.55h2.5M992.20 124.55h-2.5M584.60 121.24h2.5M992.20 121.24h-2.5M584.60 118.38h2.5M992.20 118.38h-2.5M584.60 115.86h2.5M992.20 115.86h-2.5M584.60 113.60h4M992.20 113.60h-4M584.60 98.74h2.5M992.20 98.74h-2.5M584.60 90.05h2.5M992.20 90.05h-2.5M584.60 83.89h2.5M992.20 83.89h-2.5M584.60 79.11h2.5M992.20 79.11h-2.5M584.60 75.20h2.5M992.20 75.20h-2.5M584.60 71.89h2.5M992.20 71.89h-2.5M584.60 69.03h2.5M992.20 69.03h-2.5M584.60 66.51h2.5M992.20 66.51h-2.5M584.60 64.25h4M992.20 64.25h-4M584.60 49.39h2.5M992.20 49.39h-2.5M584.60 40.70h2.5M992.20 40.70h-2.5M584.60 34.54h2.5M992.20 34.54h-2.5M584.60 29.76h2.5M992.20 29.76h-2.5M584.60 25.85h2.5M992.20 25.85h-2.5M584.60 22.54h2.5M992.20 22.54h-2.5M584.60 19.68h2.5M992.20 19.68h-2.5M584.60 17.16h2.5M992.20 17.16h-2.5" stroke="#777" stroke-width="1" fill="none"/>
<path d="M584.6 14.9H992.2V311.0" fill="none" stroke="#a0a0a0" stroke-width="1.5"/>
<path d="M584.6 14.200000000000001V311.0H992.9000000000001" fill="none" stroke="#737373" stroke-width="1.3"/>
<text x="555.5" y="320.80" font-size="17.5" font-family="'Liberation Sans', Arial, sans-serif" font-weight="bold" fill="#111">10</text>
<text x="573" y="304.50" font-size="11" font-family="'Liberation Sans', Arial, sans-serif" font-weight="bold" fill="#111">0</text>
<text x="555.5" y="271.45" font-size="17.5" font-family="'Liberation Sans', Arial, sans-serif" font-weight="bold" fill="#111">10</text>
<text x="573" y="255.15" font-size="11" font-family="'Liberation Sans', Arial, sans-serif" font-weight="bold" fill="#111">1</text>
<text x="555.5" y="222.10" font-size="17.5" font-family="'Liberation Sans', Arial, sans-serif" font-weight="bold" fill="#111">10</text>
<text x="573" y="205.80" font-size="11" font-family="'Liberation Sans', Arial, sans-serif" font-weight="bold" fill="#111">2</text>
<text x="555.5" y="172.75" font-size="17.5" font-family="'Liberation Sans', Arial, sans-serif" font-weight="bold" fill="#111">10</text>
<text x="573" y="156.45" font-size="11" font-family="'Liberation Sans', Arial, sans-serif" font-weight="bold" fill="#111">3</text>
<text x="555.5" y="123.40" font-size="17.5" font-family="'Liberation Sans', Arial, sans-serif" font-weight="bold" fill="#111">10</text>
<text x="573" y="107.10" font-size="11" font-family="'Liberation Sans', Arial, sans-serif" font-weight="bold" fill="#111">4</text>
<text x="555.5" y="74.05" font-size="17.5" font-family="'Liberation Sans', Arial, sans-serif" font-weight="bold" fill="#111">10</text>
<text x="573" y="57.75" font-size="11" font-family="'Liberation Sans', Arial, sans-serif" font-weight="bold" fill="#111">5</text>
<text x="555.5" y="24.70" font-size="17.5" font-family="'Liberation Sans', Arial, sans-serif" font-weight="bold" fill="#111">10</text>
<text x="573" y="8.40" font-size="11" font-family="'Liberation Sans', Arial, sans-serif" font-weight="bold" fill="#111">6</text>
<text x="586.70" y="328" font-size="17.5" font-family="'Liberation Sans', Arial, sans-serif" font-weight="bold" fill="#111" text-anchor="middle">0</text>
<text x="664.92" y="328" font-size="17.5" font-family="'Liberation Sans', Arial, sans-serif" font-weight="bold" fill="#111" text-anchor="middle">5</text>
<text x="746.44" y="328" font-size="17.5" font-family="'Liberation Sans', Arial, sans-serif" font-weight="bold" fill="#111" text-anchor="middle">10</text>
<text x="827.96" y="328" font-size="17.5" font-family="'Liberation Sans', Arial, sans-serif" font-weight="bold" fill="#111" text-anchor="middle">15</text>
<text x="909.48" y="328" font-size="17.5" font-family="'Liberation Sans', Arial, sans-serif" font-weight="bold" fill="#111" text-anchor="middle">20</text>
<text x="991.00" y="328" font-size="17.5" font-family="'Liberation Sans', Arial, sans-serif" font-weight="bold" fill="#111" text-anchor="middle">25</text>
<text x="702.7" y="344.8" font-size="17.5" font-family="'Liberation Sans', Arial, sans-serif" font-weight="bold" fill="#111">Noise Electron[e<tspan dx="0.6" dy="-8.2" font-size="17.5">-</tspan><tspan dx="-0.6" dy="8.2">]</tspan></text>
<text transform="translate(548.6,237) rotate(-90)" font-size="17.35" font-family="'Liberation Sans', Arial, sans-serif" font-weight="bold" fill="#111">Number of Pixels</text>
<path d="M915.8 29.9H935.2" stroke="#2856b8" stroke-width="2"/>
<text x="938.3" y="38.10" font-size="17" font-family="'Liberation Sans', Arial, sans-serif" font-weight="bold" fill="#111">M=1</text>
<path d="M915.8 53.7H935.2" stroke="#2a7b3c" stroke-width="2"/>
<text x="938.3" y="61.90" font-size="17" font-family="'Liberation Sans', Arial, sans-serif" font-weight="bold" fill="#111">M=2</text>
<path d="M915.8 77.5H935.2" stroke="#ee2b2b" stroke-width="2"/>
<text x="938.3" y="85.70" font-size="17" font-family="'Liberation Sans', Arial, sans-serif" font-weight="bold" fill="#111">M=4</text>
<path d="M915.8 101.3H935.2" stroke="#22b8b8" stroke-width="2"/>
<text x="938.3" y="109.50" font-size="17" font-family="'Liberation Sans', Arial, sans-serif" font-weight="bold" fill="#111">M=8</text>
<path d="M915.8 125.0H935.2" stroke="#8f45a9" stroke-width="2"/>
<text x="938.3" y="133.20" font-size="17" font-family="'Liberation Sans', Arial, sans-serif" font-weight="bold" fill="#111">M=16</text>
<text x="41.3" y="387.5" font-size="20.8" font-family="'Liberation Serif', 'Times New Roman', serif" stroke="#111" stroke-width="0.35" fill="#111">(a)</text>
<text x="72.3" y="387.5" font-size="20.8" font-family="'Liberation Serif', 'Times New Roman', serif" stroke="#111" stroke-width="0.35" fill="#111">Linearity to Luminance in FI-CMS mode.</text>
<text x="574.5" y="387.5" font-size="20.8" font-family="'Liberation Serif', 'Times New Roman', serif" stroke="#111" stroke-width="0.35" fill="#111">(b)</text>
<text x="607.3" y="387.5" font-size="20.8" font-family="'Liberation Serif', 'Times New Roman', serif" stroke="#111" stroke-width="0.35" fill="#111">Dark Noise Distribution in FI-CMS mode.</text>
</svg>
</body></html>
